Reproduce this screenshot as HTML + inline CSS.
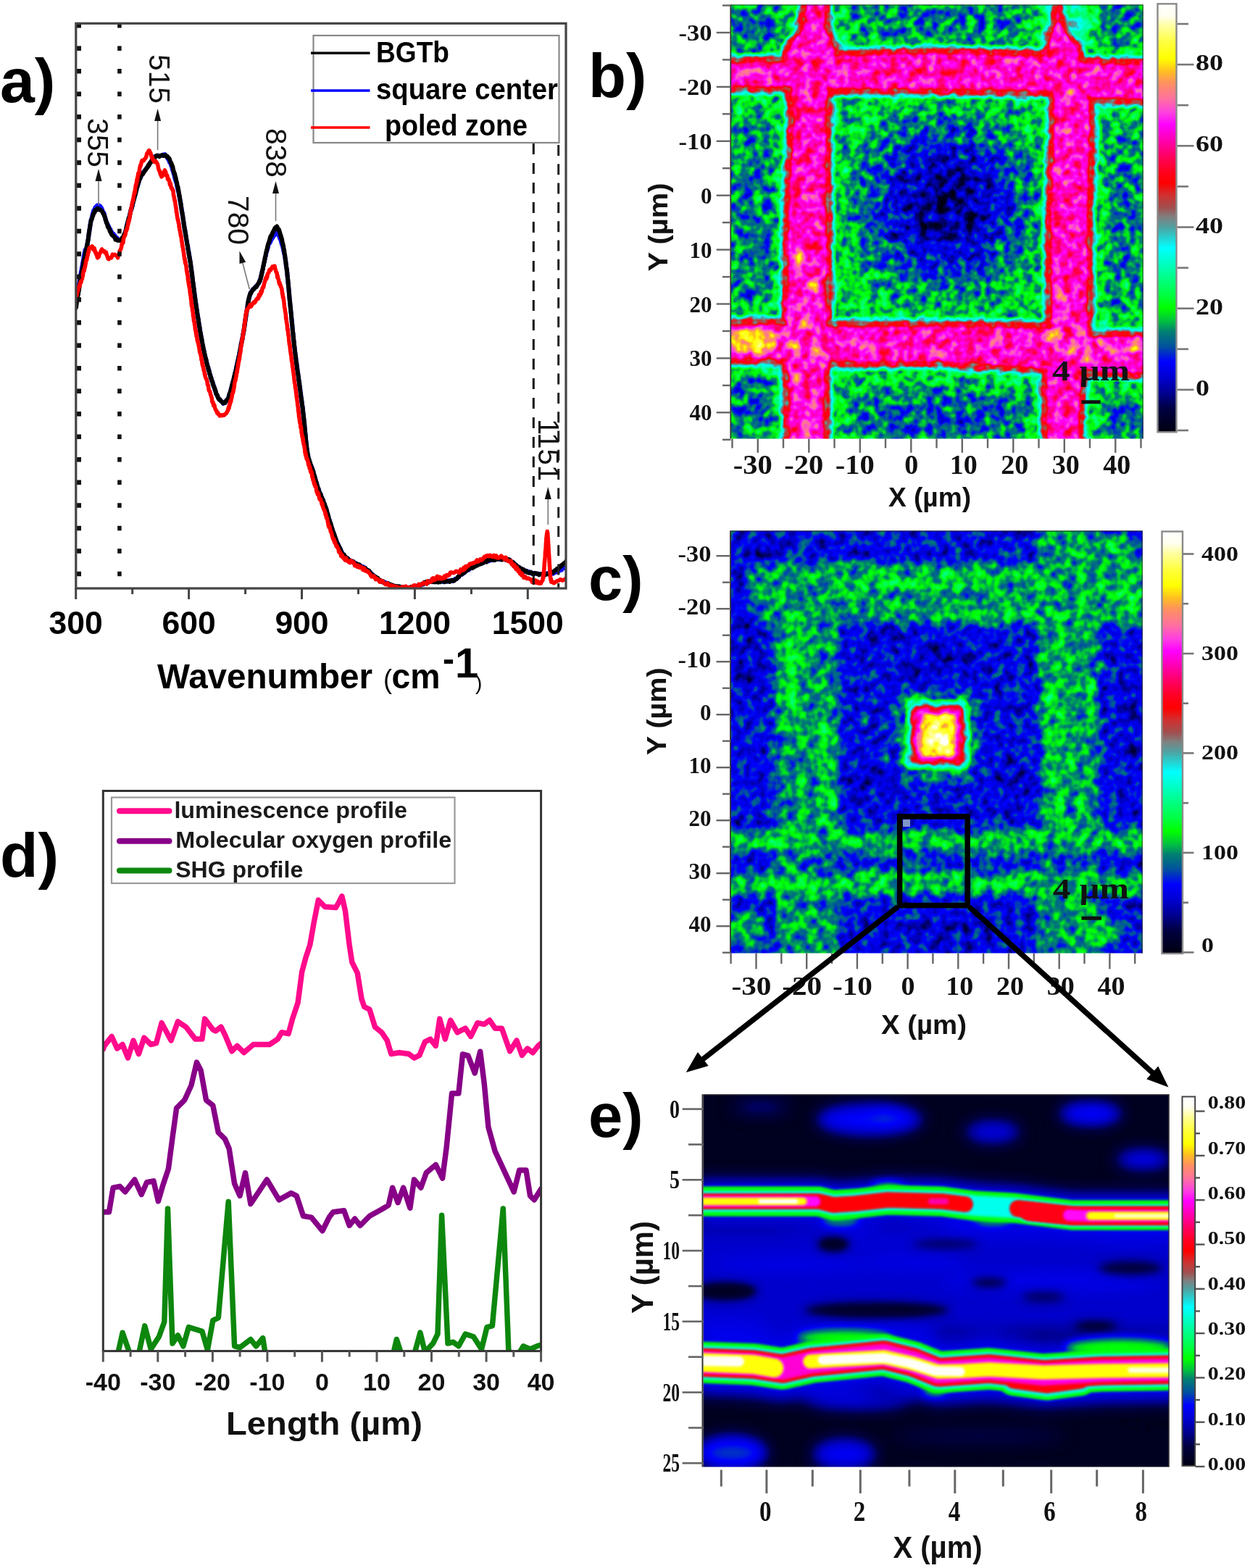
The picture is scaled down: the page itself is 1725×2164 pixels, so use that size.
<!DOCTYPE html><html><head><meta charset="utf-8"><title>Figure</title><style>html,body{margin:0;padding:0;background:#fff;}svg{display:block;}</style></head><body>
<svg width="1725" height="2164" viewBox="0 0 1725 2164">
<defs><clipPath id="clipA"><rect x="104.8" y="32.3" width="676.2" height="779.7"/></clipPath><clipPath id="clipD"><rect x="142.3" y="1091.5" width="604.3" height="773.1"/></clipPath></defs>
<rect width="1725" height="2164" fill="#fff"/>
<g clip-path="url(#clipA)">
<polyline points="104.7,419.2 104.8,418.6 105,417.8 105.2,417 105.4,415.3 105.6,414.4 105.8,411.2 106.1,410.5 106.3,409.9 106.6,407.7 106.9,406.5 107.2,403.2 107.5,402.1 107.8,399.9 108.1,398.7 108.4,397 108.6,394.1 108.9,392.8 109.2,391.3 109.5,390.9 109.7,389 110,386.3 110.3,386 110.5,383.1 110.8,382.5 111.1,380 111.3,378.2 111.6,378.4 111.8,375.5 112.1,374 112.3,374 112.6,372.3 112.8,369.6 113.1,369.5 113.4,367.1 113.6,365.9 113.9,363.5 114.2,363.4 114.4,361.4 114.7,360.5 115,358.8 115.3,356.1 115.6,354.7 115.9,352.8 116.2,351.2 116.5,349.5 116.8,348.4 117.2,347.5 117.5,344.8 117.8,344.6 118.1,348.4 118.5,346.8 118.8,346.3 119.1,344.1 119.4,342.3 119.7,341.1 120,340 120.3,337.2 120.6,337.5 120.9,334 121.2,334 121.4,332.6 121.7,329.3 121.9,329.2 122.2,326.7 122.4,325.5 122.6,322.7 122.9,321.2 123.1,319.8 123.3,319.7 123.5,316.6 123.8,316.2 124,315 124.2,313.3 124.5,310.5 124.7,309 125,307.8 125.2,306.9 125.5,304.2 126,302.9 126.6,300.7 127.2,298.6 127.8,294.9 128.4,294.8 129,291.3 129.6,290.2 130.2,289.3 130.8,288.6 131.3,286.4 132.8,285.1 134.2,283.6 135.5,283.1 136.8,283.6 138.1,284.5 139.5,286.2 140.4,287.7 141.3,290.3 142.2,292.8 143.1,293.2 144,295.5 144.5,299 145,299.8 145.5,301.5 146,303.1 146.5,305.3 147,307.2 147.6,307.9 148.1,309.2 148.7,309.7 149.4,312.7 150.1,312.3 150.8,314.5 151.5,316.5 152.3,316.3 153,318.7 153.8,320.3 154.5,320.7 155.5,322.4 156.4,322.4 157.4,324.3 158.4,324.9 159.3,327.4 160.3,327.2 162.2,329.2 164.2,331.4 166.1,331.3 167.1,331.2 168.1,329.6 169.1,328.5 170.1,327.5 171,325.2 171.9,322.9 172.4,321.9 172.8,320 173.2,319 173.7,318.7 174.1,317 174.5,314.6 174.9,312.7 175.3,310.7 175.7,308.5 176.1,307.2 176.5,306.6 176.9,305.3 177.3,302.8 177.7,302.2 178.1,300.8 178.5,299.1 178.8,297.6 179.2,296.4 179.6,294.1 180,293.4 180.4,291.1 180.8,290 181.2,289.1 181.6,287.4 182,285 182.5,284.7 182.9,282.6 183.3,280.9 183.7,278.1 184.1,277.6 184.5,275.4 185,274.7 185.4,272.7 185.8,271.8 186.2,269.9 186.6,268.6 187.1,266 187.5,264.9 187.9,263.4 188.3,262 188.7,259.4 189.1,258.8 189.6,257.4 190,255.5 190.4,254.8 191,253 191.5,250.4 192.1,248.9 192.6,246.8 193.2,246.7 193.8,245.6 194.4,243.4 195,242.6 195.9,241.1 196.9,239.7 197.9,237.2 198.9,237.2 199.9,235.5 200.9,234.3 201.9,232.5 202.8,231.6 203.7,230.6 204.7,229 205.7,227.8 206.7,225.1 207.6,224 208.6,223.1 209.5,222 210.5,219.6 211.5,219.2 212.5,217.9 213.6,215.8 215.2,215.9 216.9,215.1 218.6,214.7 220.2,214.9 221.7,215.1 223.8,214.1 225.7,213.4 227.5,213.1 228.7,214.8 229.9,216.1 231.1,218.2 232.2,220 233.3,221.2 234,224 234.7,223.5 235.3,225.8 235.9,227.1 236.5,229.2 237.2,230.7 238,234.6 238.3,234.9 238.7,235.4 239.1,237.8 239.5,238.1 239.9,240.4 240.3,241.4 240.7,243.4 241.2,245.6 241.6,246.9 242,247.6 242.4,249.9 242.9,251.1 243.3,252.1 243.7,253.2 244.1,255.6 244.4,257.1 244.8,259.3 245.1,260.7 245.4,261.3 245.7,262.2 246,264.6 246.3,264.2 246.6,265.9 246.9,268.2 247.2,269.7 247.4,270.2 247.7,272.7 248,274.6 248.2,275 248.5,276.6 248.8,277.6 249,279.1 249.3,281.9 249.5,282.1 249.8,284.6 250,285.8 250.3,286.8 250.5,287.7 250.8,290.8 251,291.4 251.3,292.7 251.5,294.1 251.7,296.9 252,297.5 252.2,298.6 252.4,300.5 252.7,301.3 252.9,303.8 253.1,305 253.4,306.2 253.6,308.7 253.8,310.4 254.1,310.3 254.3,312.9 254.6,313.9 254.8,316.7 255.1,317.9 255.4,318.4 255.6,320 255.9,321.3 256.2,324.5 256.4,324.6 256.7,326.8 257,328.1 257.2,330 257.5,331.5 257.8,333.3 258,333.6 258.3,336.4 258.5,337.1 258.8,339.1 259.1,340.2 259.3,341.5 259.5,343.4 259.8,344.6 260,345.7 260.2,347.8 260.5,348.8 260.7,349 260.9,350.8 261.2,352.6 261.4,354.9 261.7,356.4 261.9,357.3 262.2,357.9 262.5,361.3 262.8,362.5 263.1,364.9 263.4,367.4 263.6,368.4 263.7,369.3 263.9,371.4 264.1,371.6 264.2,372.9 264.4,375.1 264.6,375.2 264.8,376.8 265,379.3 265.1,379.2 265.3,382.2 265.5,383.4 265.7,384.4 265.9,385.6 266.1,388.1 266.3,389.9 266.5,390 266.7,392.2 266.9,394 267.1,395.5 267.3,396.7 267.5,398 267.7,400.5 267.9,402.6 268.2,402.7 268.4,404.7 268.6,407.5 268.8,409 269,410.4 269.2,410.7 269.5,413.7 269.7,415.8 269.9,417.4 270.1,418.4 270.4,418.7 270.6,421.8 270.8,422 271,424.4 271.3,426.5 271.5,427.6 271.7,428 272,429.9 272.2,432.7 272.4,432.7 272.7,435.2 272.9,436.4 273.2,437.5 273.4,440 273.7,440.4 273.9,442.1 274.2,444.3 274.4,445.2 274.7,446.8 274.9,449.4 275.2,451.3 275.5,453.1 275.7,453.2 276,455.4 276.2,456.7 276.5,458.8 276.8,460.1 277,462.5 277.3,462.9 277.5,463.7 277.8,466.4 278.1,466.8 278.3,469.2 278.6,470.3 278.8,472.5 279.1,473.2 279.3,474.7 279.6,475.3 279.8,477.1 280.1,477.8 280.5,480.6 280.8,482 281.2,482.9 281.6,484.9 282,486.8 282.3,489.2 282.7,489.7 283.1,492.3 283.5,493.7 283.8,494.1 284.2,496.7 284.6,497.1 284.9,498.6 285.3,500.9 285.7,501.6 286.1,504.3 286.4,504.8 286.8,505.9 287.2,508.1 287.5,507.9 287.9,510.6 288.3,510.6 288.7,512.1 289,515 289.4,515.8 289.9,516.6 290.4,518 290.9,521.4 291.4,522.5 291.9,524.5 292.4,524.8 293,527.3 293.5,528.4 294,529.7 294.5,531.4 295,533.5 295.5,534.4 296,535.8 296.5,536.7 296.9,539.4 297.4,540.2 297.8,541.7 298.2,542 298.6,543.9 299.6,545.6 300.5,547.7 301.3,549.2 302,550.7 302.7,551 303.3,551.3 304,552.1 305.4,554.2 306.6,554.9 307.9,557 309.2,556.1 310.5,556.1 312,553 312.6,553.1 313.3,553.1 313.9,551.6 314.6,550 315.4,548.4 316.2,545.4 317.2,542.5 317.5,541.5 317.8,540.9 318.1,539.8 318.5,539.6 318.8,536.9 319.1,535.8 319.5,534.5 319.9,532.9 320.2,531.7 320.6,530.2 321,529.2 321.4,526.7 321.8,526.9 322.2,524.2 322.6,523.7 323,521.6 323.4,519.9 323.8,517.8 324.2,517.1 324.6,513.8 325,513.2 325.4,510.7 325.7,509.8 326.1,508.2 326.5,505.4 326.8,504.1 327.1,502.4 327.4,501.4 327.7,499.7 328,498.9 328.3,498.7 328.6,496 328.9,494.4 329.3,493.2 329.6,491.4 329.9,490.8 330.2,489.2 330.5,486.6 330.8,485.3 331.1,484.6 331.4,483.6 331.7,481.5 332,479.5 332.3,479 332.6,475.5 332.9,474.1 333.2,474 333.5,471.7 333.8,469.4 334.1,468.9 334.4,468.3 334.7,465.8 335,463.9 335.3,461.9 335.5,460.3 335.8,460.5 336.1,458.2 336.3,457.5 336.6,454.2 336.9,453 337.1,451 337.4,450 337.6,447.7 337.9,446.4 338.1,445.1 338.4,443.2 338.6,441 338.9,439.3 339.1,439.5 339.4,436.3 339.6,435.3 339.9,433.5 340.1,432.1 340.3,429.6 340.6,428.5 340.8,426.6 341,426 341.2,425.2 341.5,423.2 341.7,422.3 341.9,419.7 342.1,418 342.4,417.8 342.6,416.5 342.8,415.6 343,414.1 343.2,413.7 343.9,410.9 344.5,409.1 345,406.1 345.6,405.1 346.1,404.9 346.7,402.8 347.3,401.8 347.9,401.2 348.7,399.6 349.6,399.7 350.5,398.8 351.6,396.9 352.7,395.7 353.8,394.6 354.9,393.9 356,392.2 357,391.2 358,389.4 358.4,387.6 358.8,386.1 359.2,386.1 359.6,383.5 359.9,382.3 360.3,381 360.7,379.7 361,377.5 361.4,376.6 361.8,374.7 362.1,373.9 362.5,371.9 362.8,370.9 363.1,368.7 363.5,367.3 363.8,365.3 364.1,363.4 364.5,362.6 364.8,360.8 365.1,360 365.4,358.2 365.8,356.4 366.2,353.9 366.6,353.6 366.9,351.4 367.3,349.6 367.7,348.1 368,347 368.3,345.9 368.7,345.5 369,343.5 369.4,341.8 369.7,342.1 370,340.6 370.3,338.5 370.7,337.6 371,336.9 371.6,335.7 372.3,335.4 372.9,334.4 373.5,332.7 374.1,331 374.7,330.6 375.3,329.6 376,328.6 376.8,326.6 377.6,326.1 378.5,324.9 379.3,323.1 380.2,320.7 381.1,321 382.1,320.5 382.6,322 383.1,322.2 383.7,324 384.2,324.7 384.8,324.4 385.3,326 385.9,328.6 386.5,329.1 387,330.5 387.6,332 388.1,334.3 388.6,336.2 389.1,337 389.6,339.5 389.9,339.8 390.2,339.9 390.5,342.3 390.7,342.6 391,343 391.2,346 391.5,345.2 391.7,347.5 392,348.5 392.2,350.5 392.5,350.8 392.7,351.7 392.9,353.2 393.2,354.4 393.4,356.5 393.6,357.6 393.9,359.9 394.1,360.4 394.4,362.3 394.6,363.7 394.8,366.9 395.1,368.4 395.3,369.5 395.4,370.2 395.6,370.9 395.7,371.6 395.9,374.2 396,374.7 396.2,375.2 396.3,376.9 396.5,378.2 396.6,380.9 396.8,382.7 396.9,382.8 397.1,385.5 397.2,386.1 397.4,388.3 397.5,390.2 397.7,391.3 397.8,393.2 398,393.9 398.1,394.8 398.3,397.4 398.4,399.1 398.6,399.9 398.7,401.9 398.9,403.4 399,404.4 399.2,406.6 399.3,408.3 399.5,410.1 399.6,412.2 399.8,413.1 399.9,415.9 400.1,417.1 400.2,418.9 400.4,419.9 400.5,421.4 400.7,422.7 400.9,424.7 401,425.3 401.1,427.3 401.3,429 401.4,430.2 401.6,431.2 401.7,432.3 401.9,433.8 402,435.9 402.2,437.8 402.3,439.7 402.5,441.1 402.6,441.8 402.7,444.5 402.9,444.7 403,447.1 403.2,447.3 403.3,450.2 403.5,451.5 403.6,453.6 403.8,455 403.9,456.1 404,457.9 404.2,459.2 404.4,460.5 404.5,461.2 404.7,463.3 404.8,465.5 405,465.7 405.1,468.7 405.3,469.4 405.5,470.6 405.6,471.3 405.8,473.6 406,474.6 406.1,477.1 406.3,479.1 406.5,480.6 406.7,481.6 406.8,482.6 407,483.6 407.2,486.3 407.4,487.6 407.6,489.5 407.8,490.4 408,493 408.2,493.2 408.4,494.9 408.6,496.4 408.9,498.7 409.1,500.8 409.3,500.9 409.5,503.4 409.7,505.3 409.9,505.7 410.1,507 410.3,509.5 410.6,511.6 410.8,513.2 411,514.5 411.2,515.3 411.4,516.9 411.6,518.6 411.8,520.8 412,521.1 412.2,522.5 412.4,524.6 412.6,526.7 412.8,526.6 413,527.7 413.2,529.2 413.3,531.5 413.5,532.9 413.7,533.4 413.9,535.1 414.2,537.7 414.4,539.4 414.6,541.2 414.8,542.8 415,543 415.2,545.4 415.4,547.6 415.6,549.3 415.8,549.5 416,552 416.2,553 416.4,554.9 416.6,555 416.7,557.3 416.9,559 417.1,559.7 417.3,560.3 417.5,562 417.7,563.3 417.8,564.7 418,566.3 418.2,568.8 418.4,569.3 418.6,572.2 418.8,573.8 419,575.6 419.2,577 419.3,578.2 419.5,580.1 419.6,581.6 419.8,582.5 419.9,584.7 420.1,584.5 420.2,586.1 420.4,587.6 420.5,589.5 420.7,591.4 420.8,593.2 421,595.3 421.2,597.1 421.3,597.4 421.5,599.7 421.6,601.6 421.8,602.9 421.9,604 422.1,606.6 422.2,607.7 422.4,609.9 422.6,611.1 422.7,613.6 422.9,615 423.1,614.8 423.2,617.6 423.4,618.9 423.6,619.4 423.8,620.4 423.9,622.4 424.1,623.4 424.3,625.3 424.5,626.8 424.9,627.9 425.3,629.7 425.7,631.9 426.1,634 426.6,635.7 427,636.8 427.5,637.6 427.9,639 428.4,641.2 428.8,641.8 429.3,642.1 429.8,644 430.2,644.8 430.7,646.9 431.1,646.9 431.6,648.7 432,649.7 432.5,652 432.9,654.5 433.3,655.1 433.8,656.3 434.2,658.9 434.6,658.8 435,660.8 435.5,663.2 435.9,663.1 436.3,666.1 436.8,666.8 437.2,667.6 437.7,669.6 438.2,671.5 438.7,672.9 439.2,674.6 439.7,675.1 440.2,676.9 440.8,679.8 441.3,680.2 441.9,681.6 442.5,682.3 443.1,684.1 443.7,686.9 444.3,687.7 444.9,688.8 445.5,689.3 446.1,691.4 446.6,693.6 447.2,694.3 447.8,696.1 448.3,698.1 448.8,699 449.3,700.5 449.8,700.8 450.3,702.3 450.8,705.3 451.2,706.1 451.7,708.5 452.1,709.9 452.5,711.6 453,712 453.4,714.8 453.8,715.8 454.3,717.6 454.7,717.6 455.2,720.3 455.6,721.1 456.1,723.7 456.6,725.2 457,725.1 457.5,727 457.9,728.1 458.4,730 458.9,731.1 459.4,733.3 459.8,733.6 460.3,735.2 460.8,737.2 461.3,737.9 461.8,739.9 462.3,742.4 462.9,743.7 463.4,743.7 463.9,744.7 464.5,747.7 465.1,749.4 465.8,750.2 466.5,750.8 467.1,752.5 467.8,755.4 468.5,756.9 469.2,756.5 469.9,758.2 470.7,760.1 471.4,761.1 472.2,763.4 472.9,763.9 473.7,765.9 474.6,765.8 475.4,767.5 476.6,769.7 477.8,770.3 479.1,770.1 480.4,771.1 481.7,772.9 483,773.2 484.4,773.9 485.8,774.8 487.1,775.7 488.5,777.2 489.9,776.6 491.3,778 492.7,778.2 494.2,779.5 495.6,780.6 497.1,780.2 498.6,781.6 500,782.8 501.5,782.2 502.9,784.5 504.2,784.6 505.5,785.6 506.8,786.8 508,788.2 509.2,787.8 510.3,789.8 511.4,790 512.5,791.8 513.6,792.9 514.9,793.3 516.2,794.9 517.6,796.3 518.8,797.5 520.1,798.9 521.4,798.6 522.7,799.7 524.1,800.9 525.6,802.1 527,802.9 528.5,803.8 529.9,803.1 531.4,803.6 532.9,805.8 534.3,804.7 535.7,806 537.2,807.2 538.7,807.3 540.2,807.5 541.7,809.1 543.2,808.3 544.8,809.2 546.3,810.2 547.8,809.2 549.3,809.9 550.8,810.5 552.3,810.8 553.8,810.3 555.3,811 556.8,810.3 558.3,810.5 559.8,811 561.3,810.6 562.8,812.3 564.4,810.8 565.9,810.7 567.4,811.6 568.9,811.3 570.4,810.1 571.9,811 573.4,810.2 574.9,809.2 576.4,809.2 578,807.8 579.5,807.1 581,807.7 582.5,806.1 584,806.4 585.5,804.3 587,803.6 588.5,803 590,804 591.6,803.3 593.2,802 594.8,801.9 596.4,803.3 598,802.6 599.6,803.3 601.2,801.6 602.8,802.7 604.3,801.8 605.9,802.9 607.5,802.6 609.1,802.5 610.7,801.7 612.4,803.2 614.1,801.5 615.7,801.4 617.4,802.6 619,801.3 620.6,801.2 622.1,801.8 623.5,801.9 624.9,802 626.4,801 627.9,799 629.2,799.3 630.4,798.8 631.7,796.3 632.8,796.6 634,794.6 635.2,793.6 636.5,792.1 637.8,792.7 639.1,791.3 640.4,791.1 641.7,789.3 643,787.7 644.3,786.9 645.6,786.1 646.9,786.6 648.2,784.3 649.7,783.2 651.1,783 652.6,781.7 654,781.6 655.5,781.3 656.9,780.7 658.4,779.1 659.8,778.4 661.2,778.4 662.7,778.2 664.1,777.1 665.6,776.7 667,776.8 668.5,774.8 669.9,774.5 671.4,774.5 673,774.1 674.6,774.4 676.1,773.3 677.7,773.2 679.3,772.4 681.1,772.9 683.1,772.8 684.5,771.6 686,771.1 687.6,771.2 689.2,771.3 690.9,772.3 692.7,770.9 694.4,771.7 696,771.7 697.6,772.5 699.1,771 700.5,772.6 702.1,772.3 703.6,772.6 705,774.6 706.3,776 707.6,776.5 708.8,776.5 710,779.4 711.1,779.2 712.2,780.6 713.7,781.9 715.1,782 716.4,783.3 717.6,784.1 718.9,784.5 720.3,785.2 721.8,787.3 723.3,787.3 724.9,788.8 726.5,787.7 728,788.7 729.6,789 731.2,791 732.7,791.1 734.3,791.7 735.9,791.3 737.4,790.8 738.9,791.7 740.6,791.7 742.3,791.6 743.9,793 745.5,792.6 747.1,792.3 748.7,793.1 750.3,793.8 751.9,793.6 753.5,792.3 755.2,791.1 756.7,792 758.3,790.3 759.9,791.1 761.5,790.1 763.1,791.8 764.5,790.7 766,790.2 767.4,789.4 768.7,789.5 770.1,789.7 771.5,787.9 772.6,786.8 773.8,786.7 775.1,786.7 776.3,784.7 777.5,784.3 778.6,784.1 779.6,782.2 781.5,781.7 783,779.9 784,778.3" fill="none" stroke="#1010ff" stroke-width="6" stroke-linejoin="round" stroke-linecap="round" />
<polyline points="104.7,424.9 104.8,424.3 105,424.2 105.2,422 105.4,420.9 105.6,419.7 105.8,417.3 106.1,416.6 106.3,415.3 106.6,414.1 106.9,410.7 107.2,409.5 107.5,407.2 107.8,407.2 108.1,405.1 108.4,401.8 108.6,402.3 108.9,400.5 109.2,398.1 109.5,396.3 109.7,393.7 110,391.8 110.3,391.5 110.5,388.8 110.8,387.5 111.1,386.1 111.3,384 111.6,383.5 111.8,382 112.1,381.4 112.3,379.1 112.6,377.9 112.8,376.1 113.1,374.9 113.4,373 113.6,371 113.9,371.2 114.2,369.7 114.4,367.9 114.7,366 115,363.6 115.3,361.8 115.6,360.4 115.9,358.4 116.2,358.5 116.5,356.1 116.8,355.7 117.2,353 117.5,352.9 117.8,351.1 118.1,347.5 118.5,346.5 118.8,346.7 119.1,344.1 119.4,343.8 119.7,340.9 120,338.6 120.3,338.4 120.6,337.2 120.9,334.4 121.2,332.5 121.4,331.5 121.7,331.4 121.9,329.3 122.2,326.1 122.4,324.8 122.6,322.8 122.9,321 123.1,321.1 123.3,318 123.5,317.4 123.8,315.5 124,313.4 124.2,313.2 124.5,310.3 124.7,310.1 125,307.5 125.2,307 125.5,305.3 126,303.3 126.6,303 127.2,300.8 127.8,297.9 128.4,297.8 129,294.7 129.6,293.9 130.2,293.8 130.8,292.3 131.3,290 132.8,290.2 134.2,287.8 135.5,287.9 136.8,289.5 138.1,289.3 139.5,290.5 140.4,290.9 141.3,292.1 142.2,294.6 143.1,295.3 144,298 144.5,298.7 145,300.3 145.5,303.1 146,303.6 146.5,305.5 147,307.9 147.6,307.9 148.1,309.4 148.7,312.7 149.4,314.1 150.1,314.3 150.8,315.7 151.5,318.5 152.3,320.4 153,320 153.8,323.2 154.5,324.2 155.5,325 156.4,326 157.4,326.5 158.4,327.5 159.3,330.6 160.3,329.7 162.2,331.9 164.2,331.4 166.1,332.2 167.1,330.9 168.1,329.2 169.1,327.7 170.1,327.6 171,324.3 171.9,322.6 172.4,322.2 172.8,321.6 173.2,319.5 173.7,317.2 174.1,317.1 174.5,313.7 174.9,311.5 175.3,310.4 175.7,309.1 176.1,306.6 176.5,305.2 176.9,304.2 177.3,303.3 177.7,300.8 178.1,299.9 178.5,299.7 178.8,298.5 179.2,296.2 179.6,294.9 180,293.2 180.4,290.6 180.8,288.9 181.2,287.4 181.6,288 182,285.9 182.5,285 182.9,281.1 183.3,281 183.7,279.1 184.1,278.1 184.5,275.5 185,275.6 185.4,271.8 185.8,271.3 186.2,270.2 186.6,268.9 187.1,266.9 187.5,265.1 187.9,263.7 188.3,262.3 188.7,259.3 189.1,258.6 189.6,257.6 190,256.1 190.4,253.6 191,252.7 191.5,251.3 192.1,249.1 192.6,247.7 193.2,245.8 193.8,244.9 194.4,243.7 195,241.2 195.9,241 196.9,240.4 197.9,238.8 198.9,237.1 199.9,235 200.9,234.6 201.9,232.9 202.8,231.2 203.7,230.9 204.7,227.8 205.7,228 206.7,224.9 207.6,224.9 208.6,223.2 209.5,221 210.5,220.7 211.5,218.8 212.5,217.9 213.6,217.7 215.2,215.4 216.9,214.5 218.6,215.1 220.2,216.1 221.7,214.8 223.8,214 225.7,215 227.5,214.4 228.7,214.3 229.9,216.2 231.1,215.8 232.2,217.9 233.3,218.3 234,220 234.7,222 235.3,223.5 235.9,224.9 236.5,225.3 237.2,227.8 238,229.6 238.3,230.2 238.7,232.3 239.1,234.4 239.5,235.8 239.9,236.9 240.3,238.9 240.7,238.8 241.2,240.1 241.6,242.4 242,243.6 242.4,245.1 242.9,247.2 243.3,249.4 243.7,250.7 244.1,252 244.4,254.9 244.8,256.9 245.1,257 245.4,257.6 245.7,259 246,262.6 246.3,262.1 246.6,265.3 246.9,266.5 247.2,267.5 247.4,270.2 247.7,270 248,271.8 248.2,274.2 248.5,274.7 248.8,278.2 249,278.3 249.3,279.6 249.5,280.9 249.8,283.8 250,284.9 250.3,286.9 250.5,288.6 250.8,290.5 251,292.5 251.3,293.4 251.5,293.7 251.7,295.9 252,296.7 252.2,297.8 252.4,300.5 252.7,302.5 252.9,302.8 253.1,304.5 253.4,306.2 253.6,308.6 253.8,309.8 254.1,311.6 254.3,313.4 254.6,314.1 254.8,316.5 255.1,318.3 255.4,317.9 255.6,321.5 255.9,322.5 256.2,322.6 256.4,324.9 256.7,326.9 257,329.1 257.2,329.4 257.5,331.4 257.8,333.7 258,335.1 258.3,337 258.5,337.4 258.8,339.4 259.1,339.8 259.3,342.5 259.5,344.1 259.8,345 260,346.5 260.2,346.6 260.5,349.6 260.7,351.1 260.9,352.4 261.2,352.7 261.4,354.8 261.7,355.2 261.9,358.2 262.2,359.8 262.5,360.4 262.8,361.7 263.1,364.6 263.4,367.1 263.6,368.8 263.7,369.3 263.9,369.4 264.1,372.6 264.2,372.1 264.4,375.2 264.6,375 264.8,376.8 265,379.3 265.1,379.2 265.3,380.7 265.5,383 265.7,385 265.9,386.8 266.1,388 266.3,390.2 266.5,390.7 266.7,393.4 266.9,392.9 267.1,394.8 267.3,397.1 267.5,398.2 267.7,400.9 267.9,402.3 268.2,403.6 268.4,406 268.6,407 268.8,408 269,409.8 269.2,412.5 269.5,414.2 269.7,414.2 269.9,417.3 270.1,419.1 270.4,419.6 270.6,421.3 270.8,421.9 271,424.2 271.3,425.6 271.5,427.4 271.7,427.6 272,431.4 272.2,431.9 272.4,433.2 272.7,435.7 272.9,436.7 273.2,438.1 273.4,440.2 273.7,440.3 273.9,443 274.2,444.3 274.4,447.2 274.7,448.7 274.9,448.7 275.2,450.8 275.5,451.5 275.7,453.8 276,456.3 276.2,458 276.5,458.5 276.8,459.7 277,460.9 277.3,463.4 277.5,465.6 277.8,465.2 278.1,468.2 278.3,467.8 278.6,469.6 278.8,471.1 279.1,473.5 279.3,474 279.6,475.4 279.8,477.3 280.1,477.4 280.5,480.7 280.8,481 281.2,483.7 281.6,484.8 282,486.3 282.3,488.8 282.7,490.1 283.1,491.6 283.5,493.2 283.8,495 284.2,495.6 284.6,497.2 284.9,499.6 285.3,501.1 285.7,502.2 286.1,504.3 286.4,505.1 286.8,507.1 287.2,506.9 287.5,509.5 287.9,510.9 288.3,512.5 288.7,512.4 289,513.7 289.4,516.4 289.9,516.4 290.4,520 290.9,521.4 291.4,521.3 291.9,523.2 292.4,526 293,526.5 293.5,527.7 294,531 294.5,531.6 295,533.9 295.5,533.8 296,535.8 296.5,537.9 296.9,537.5 297.4,539.2 297.8,541.5 298.2,543.2 298.6,544.3 299.6,544.7 300.5,547.5 301.3,549.6 302,550.2 302.7,551.7 303.3,551.4 304,552 305.4,553.8 306.6,554.7 307.9,556.3 309.2,556.2 310.5,555.7 312,553.2 312.6,552.4 313.3,551.6 313.9,552.2 314.6,551.3 315.4,549.5 316.2,545.2 317.2,542.1 317.5,543.3 317.8,541.1 318.1,540.7 318.5,538.4 318.8,537.5 319.1,536.4 319.5,534.8 319.9,533.8 320.2,531 320.6,531.2 321,530 321.4,526.9 321.8,526 322.2,525.1 322.6,522.6 323,520.5 323.4,518.8 323.8,517.9 324.2,515.1 324.6,515.5 325,513.6 325.4,511.6 325.7,510.3 326.1,508.1 326.5,505.9 326.8,505 327.1,503.4 327.4,503.1 327.7,501.3 328,498.6 328.3,498.7 328.6,496.8 328.9,495.5 329.3,494.1 329.6,491.6 329.9,491.3 330.2,489.7 330.5,487.8 330.8,486.4 331.1,484.9 331.4,482.5 331.7,481.7 332,478.6 332.3,477.7 332.6,476.5 332.9,473.8 333.2,473.1 333.5,472.2 333.8,470.7 334.1,468.2 334.4,468.3 334.7,466.1 335,463.8 335.3,463.1 335.5,461.4 335.8,459.8 336.1,457.9 336.3,457.8 336.6,455.4 336.9,454 337.1,452.5 337.4,451.4 337.6,447.4 337.9,447.2 338.1,445.8 338.4,443 338.6,441.7 338.9,439.2 339.1,437.8 339.4,436.6 339.6,434.3 339.9,433.1 340.1,433 340.3,430.6 340.6,428.9 340.8,428.5 341,426 341.2,425.6 341.5,423.3 341.7,422.3 341.9,419.2 342.1,419.2 342.4,418.4 342.6,415.5 342.8,416.5 343,413.6 343.2,413.3 343.9,409.7 344.5,408.2 345,406.8 345.6,404.2 346.1,405.3 346.7,403.2 347.3,402.6 347.9,401.8 348.7,400.1 349.6,398.7 350.5,398.6 351.6,397.4 352.7,395.9 353.8,396 354.9,393.9 356,391.9 357,390.7 358,388.1 358.4,387.3 358.8,387.6 359.2,385.4 359.6,385.3 359.9,383.5 360.3,380.4 360.7,381.1 361,379.4 361.4,375.7 361.8,376.1 362.1,373.3 362.5,371.7 362.8,371.2 363.1,367.8 363.5,366.8 363.8,366.2 364.1,364.1 364.5,361.9 364.8,361.6 365.1,359.8 365.4,357.9 365.8,355 366.2,354.5 366.6,352.4 366.9,350.2 367.3,348.1 367.7,347.6 368,345.1 368.3,344.3 368.7,343.3 369,341.3 369.4,339.4 369.7,338.8 370,337 370.3,336.6 370.7,334.8 371,334.8 371.6,332.6 372.3,330.3 372.9,327.6 373.5,325.9 374.1,326.5 374.7,325.1 375.3,323.5 376,321.7 376.8,319.8 377.6,318.9 378.5,316.7 379.3,315 380.2,313.8 381.1,313.5 382.1,312.5 382.6,313.1 383.1,315.6 383.7,316.4 384.2,317.4 384.8,316.7 385.3,318.2 385.9,320.2 386.5,322.2 387,324.5 387.6,325 388.1,327.9 388.6,328.7 389.1,330.7 389.6,334 389.9,334.9 390.2,336.4 390.5,337 390.7,338.5 391,339.2 391.2,340.8 391.5,343.1 391.7,344.7 392,344.2 392.2,345.7 392.5,348.8 392.7,349.9 392.9,351.8 393.2,352 393.4,354.1 393.6,355.4 393.9,358.4 394.1,359.1 394.4,361.6 394.6,364.3 394.8,364.6 395.1,367.1 395.3,368.8 395.4,370.5 395.6,370.6 395.7,371.7 395.9,372.4 396,375.7 396.2,375.1 396.3,376.5 396.5,379.1 396.6,380.4 396.8,382.3 396.9,382.9 397.1,385.6 397.2,385.4 397.4,387.3 397.5,389.9 397.7,390 397.8,392.1 398,394.7 398.1,396.2 398.3,396.9 398.4,398.1 398.6,400.2 398.7,402.7 398.9,403.5 399,404.5 399.2,407.5 399.3,408.7 399.5,411.2 399.6,412.8 399.8,414.3 399.9,414.8 400.1,417.2 400.2,417.6 400.4,419.1 400.5,420.8 400.7,423.6 400.9,425.1 401,425 401.1,426.8 401.3,428.3 401.4,429.8 401.6,431.4 401.7,432.9 401.9,433.9 402,436.3 402.2,438.4 402.3,439.2 402.5,441.5 402.6,442.3 402.7,442.9 402.9,445.8 403,447.6 403.2,447.7 403.3,448.5 403.5,451.2 403.6,452.8 403.8,454.4 403.9,456.8 404,457.6 404.2,459.5 404.4,459.2 404.5,461.8 404.7,463.9 404.8,463.8 405,465.3 405.1,468.3 405.3,470.2 405.5,469.8 405.6,472.6 405.8,472.9 406,475.9 406.1,477.2 406.3,477.7 406.5,479.1 406.7,482 406.8,482.9 407,485 407.2,485.7 407.4,487.1 407.6,490.2 407.8,491 408,492.2 408.2,493.8 408.4,495.8 408.6,497.4 408.9,499.5 409.1,499.8 409.3,502.4 409.5,503.6 409.7,505.6 409.9,507 410.1,508.6 410.3,510.3 410.6,512 410.8,512.8 411,514.1 411.2,516 411.4,517.7 411.6,518.3 411.8,519.8 412,520.6 412.2,523.5 412.4,525.6 412.6,525.5 412.8,526.4 413,527.9 413.2,529.8 413.3,530.8 413.5,533.8 413.7,532.9 413.9,535.3 414.2,536.6 414.4,539.5 414.6,541.4 414.8,541.6 415,542.9 415.2,545.3 415.4,547.1 415.6,549.4 415.8,548.7 416,550.3 416.2,551.9 416.4,553.4 416.6,554.9 416.7,557.4 416.9,558.5 417.1,559.1 417.3,560.4 417.5,562 417.7,563.2 417.8,566.1 418,566.5 418.2,568.6 418.4,570.8 418.6,571.6 418.8,572.7 419,575.9 419.2,577.4 419.3,577.4 419.5,579.3 419.6,581.8 419.8,582.2 419.9,583.1 420.1,584.2 420.2,587.9 420.4,589.2 420.5,589.8 420.7,591.8 420.8,593.4 421,594.4 421.2,597.8 421.3,598.6 421.5,599.3 421.6,600.4 421.8,603.1 421.9,604.5 422.1,607.1 422.2,608.5 422.4,609.8 422.6,610.3 422.7,611.8 422.9,613.7 423.1,615 423.2,617.9 423.4,618.5 423.6,620.2 423.8,622.3 423.9,621.9 424.1,623.8 424.3,624 424.5,626.6 424.9,626.9 425.3,630.9 425.7,632.7 426.1,634.4 426.6,634.2 427,636.1 427.5,638.5 427.9,638.3 428.4,640.5 428.8,641.7 429.3,644 429.8,644.3 430.2,646.2 430.7,646.1 431.1,648.5 431.6,648.9 432,651.5 432.5,651 432.9,654.3 433.3,654.3 433.8,656.7 434.2,658.1 434.6,658.7 435,661.9 435.5,662.1 435.9,663.6 436.3,664.6 436.8,666.6 437.2,668.5 437.7,670.6 438.2,671.3 438.7,673.5 439.2,673.7 439.7,675.8 440.2,677.3 440.8,680 441.3,681.1 441.9,682.1 442.5,681.9 443.1,684.2 443.7,686.4 444.3,686.7 444.9,688.9 445.5,690.1 446.1,690.4 446.6,694.2 447.2,695.2 447.8,695.2 448.3,697.6 448.8,698.2 449.3,699.9 449.8,701.8 450.3,702.7 450.8,704.3 451.2,706 451.7,708.1 452.1,708.7 452.5,710 453,712.8 453.4,713.3 453.8,716.3 454.3,716.9 454.7,718.8 455.2,719.4 455.6,722.1 456.1,721.8 456.6,723.4 457,724.7 457.5,727.5 457.9,729.1 458.4,729.3 458.9,731.2 459.4,733.8 459.8,734.6 460.3,734.9 460.8,736.6 461.3,737.9 461.8,739.2 462.3,741.3 462.9,741.9 463.4,745.3 463.9,745.5 464.5,747 465.1,748.9 465.8,750.6 466.5,752.3 467.1,752.7 467.8,754.1 468.5,755.8 469.2,756.3 469.9,758.6 470.7,760.7 471.4,762.8 472.2,763.6 472.9,764.5 473.7,765.6 474.6,765.3 475.4,767.1 476.6,768.4 477.8,770.3 479.1,770 480.4,771.5 481.7,772.7 483,774.1 484.4,774.9 485.8,775.1 487.1,774.7 488.5,776.9 489.9,778.1 491.3,778 492.7,778.3 494.2,779.4 495.6,779.3 497.1,781.4 498.6,782.8 500,782.4 501.5,783.7 502.9,784.7 504.2,784 505.5,786.7 506.8,786.9 508,786.9 509.2,787.7 510.3,789.2 511.4,791.1 512.5,792.5 513.6,792.8 514.9,795.3 516.2,795 517.6,796.3 518.8,796.3 520.1,799.1 521.4,797.9 522.7,800.6 524.1,800.5 525.6,801.4 527,802.2 528.5,802.2 529.9,804.5 531.4,805.4 532.9,805.7 534.3,805.8 535.7,805.2 537.2,807.5 538.7,806.7 540.2,808.7 541.7,807.6 543.2,808.9 544.8,809.9 546.3,808.8 547.8,810 549.3,809.2 550.8,809.3 552.3,809.9 553.8,812.1 555.3,812.1 556.8,811.6 558.3,810.8 559.8,811.7 561.3,811.9 562.8,811 564.4,811.5 565.9,811.9 567.4,809.9 568.9,810.1 570.4,810.5 571.9,809.4 573.4,809.7 574.9,809.6 576.4,808.1 578,808.3 579.5,807.1 581,807.1 582.5,805.8 584,805.9 585.5,803.8 587,804.8 588.5,803 590,804.6 591.6,803.4 593.2,802.9 594.8,802.6 596.4,803 598,803.1 599.6,803.2 601.2,803.2 602.8,802.5 604.3,803.7 605.9,803.3 607.5,803.3 609.1,802.1 610.7,802.1 612.4,802.4 614.1,803.2 615.7,802.3 617.4,802.3 619,802 620.6,803 622.1,801.4 623.5,800.5 624.9,801.7 626.4,801.6 627.9,800.4 629.2,799.2 630.4,798.7 631.7,796.6 632.8,796.3 634,794 635.2,793.1 636.5,793 637.8,792.2 639.1,791 640.4,789.2 641.7,789.8 643,788.4 644.3,786.8 645.6,786.1 646.9,785.5 648.2,784.3 649.7,783 651.1,784.2 652.6,783.6 654,782.2 655.5,782 656.9,780.2 658.4,780.5 659.8,778.4 661.2,779 662.7,778 664.1,778.2 665.6,775.6 667,776.7 668.5,774.6 669.9,775.1 671.4,775.6 673,772.8 674.6,773 676.1,772.7 677.7,772.4 679.3,771.5 681.1,773.2 683.1,772.9 684.5,771.7 686,771.5 687.6,771.9 689.2,770.5 690.9,770.4 692.7,772.4 694.4,770.9 696,771.4 697.6,772.6 699.1,772.9 700.5,772 702.1,772 703.6,772.9 705,775.3 706.3,776.3 707.6,775.6 708.8,778.3 710,778.1 711.1,779.4 712.2,779.5 713.7,782.3 715.1,783.7 716.4,782.8 717.6,784.7 718.9,784.6 720.3,787 721.8,785.8 723.3,786.5 724.9,788.6 726.5,788.2 728,790.1 729.6,790.5 731.2,790.6 732.7,789.6 734.3,791.4 735.9,792.3 737.4,791.5 738.9,790.9 740.6,791.6 742.3,792.1 743.9,793.4 745.5,792.3 747.1,792.3 748.7,792.4 750.3,793.3 751.9,793.4 753.5,792 755.2,792.3 756.7,792.4 758.3,791.2 759.9,789.7 761.5,789.3 763.1,790.1 764.5,788.8 766,787.1 767.4,787.1 768.7,784.9 770.1,786.1 771.5,783.7 772.6,783 773.8,782 775.1,779.7 776.3,779.9 777.5,778.1 778.6,777.1 779.6,777.5 781.5,774.2 783,773.4 784,773.6" fill="none" stroke="#000" stroke-width="6" stroke-linejoin="round" stroke-linecap="round" />
<polyline points="104.7,411.2 104.9,409.6 105.2,410.7 105.6,406.8 106,407.3 106.4,404.9 106.9,401.8 107.4,401.9 108,398 108.4,398.5 108.8,395.6 109.2,394.4 109.6,394.6 110.1,394.9 110.6,390.4 111,389.4 111.5,389.7 112,389.6 112.5,386.4 113,384 113.4,385 113.9,379.3 114.3,381.4 114.7,377.5 115.1,375.3 115.5,373.6 115.9,372.8 116.3,373.5 116.7,369 117.1,369.2 117.5,367.8 117.9,365 118.2,364.2 118.6,360.5 119,359 119.3,358.2 119.7,358.9 120.2,355.9 120.6,353.5 121,352.7 121.4,350.3 121.8,347.7 122.2,348.2 122.6,346.1 123,342.7 123.4,342.8 123.8,341.6 124.3,342.4 125.7,341 127.2,339.8 128.7,344.5 130.1,342.5 130.8,345.1 131.5,348.4 132.1,347.7 132.8,351.2 133.4,350.9 134.1,354.9 134.8,355.8 135.6,354.4 136.4,354.3 137.2,349.9 138.1,349.5 138.9,347 139.8,345.4 140.6,344 141.8,345.8 143,347.3 144.2,346.7 145.3,349.2 146.4,348.1 147.4,352.4 148.3,353.9 149.1,357.2 150,357.7 151,356.1 152.4,356 153.8,355.7 155.3,351.2 156.8,352.1 158.3,351.3 159.8,352.3 161.2,353.1 162.6,355.8 163.2,352.2 163.7,351.6 164.2,350.8 164.7,351.4 165.1,346.2 165.6,346 166.1,344.6 166.6,344.2 167.2,342.1 167.6,341 168.1,337.1 168.6,336.4 169,334.8 169.5,335.7 170,334.6 170.5,329.6 171,328.2 171.5,327 172,325.4 172.5,324.9 173,323.7 173.4,320.9 173.8,318.3 174.2,318.7 174.6,317 175,316.3 175.4,316.4 175.8,313.7 176.2,311.3 176.6,310.2 176.9,308.8 177.3,304.5 177.7,306.6 178.1,304.5 178.4,303.3 178.8,301.4 179.1,298.1 179.5,296.6 179.8,293.8 180.1,294.7 180.4,290.7 180.7,289.2 181,288.4 181.3,286.7 181.6,286 181.9,283.2 182.2,281.4 182.5,280.5 182.8,278.6 183.2,278.1 183.5,274.9 183.8,277.3 184.1,274.7 184.4,271.1 184.6,270.1 184.9,269 185.3,267.5 185.6,264.8 185.9,266.4 186.2,265.5 186.5,261.6 186.8,260 187.1,256.7 187.4,255.2 187.7,254.7 188.1,252.8 188.4,253.8 188.7,249.3 189,247.3 189.3,250 189.7,246.4 190.1,242.9 190.5,242.9 190.8,238.9 191.2,239.4 191.6,239.7 192,237.5 192.4,235.2 192.8,231.7 193.2,230.6 193.6,228.3 193.9,229.6 194.3,227.2 194.7,227.1 195.1,224.1 196.1,221.3 197.1,222.3 198.1,221.9 199.1,220.3 200,219.2 200.9,218.1 201.9,216 202.8,211.8 203.6,211.4 204.5,209.4 205.5,207.6 206.3,208.1 207.1,210.2 207.9,211.5 208.8,215.1 209.6,218 210.5,217.4 211.3,220.9 212.3,222.5 213.2,223.5 214.2,222.1 215.2,222.7 216.1,224.2 217.1,225.8 217.7,227.1 218.3,230.6 218.9,233.5 219.5,235.1 220.1,235.4 220.7,238 221.2,240.3 221.8,238.6 222.4,242.2 222.9,244 224.1,243 225.2,240.5 226.3,236.9 227.5,235 228,238.3 228.6,237.2 229.2,240.4 229.7,242.5 230.3,241.5 230.9,243.2 231.5,247.3 232.1,248.1 232.7,247.3 233.3,248.7 233.8,250.1 234.4,254.6 234.9,255.3 235.4,253.5 235.9,257.7 236.5,259.6 237,259.6 237.5,259.7 238,262.2 238.6,262.3 239.1,263.9 239.4,269.2 239.6,269.1 239.9,269.9 240.2,273 240.4,272.3 240.7,275.7 241,277 241.2,275.9 241.5,277.7 241.8,279.5 242,281 242.3,284.2 242.5,284.4 242.8,286.8 243.1,287.2 243.3,292.3 243.6,291.5 243.9,293.6 244.1,295.8 244.4,298.8 244.6,298.2 244.9,301.8 245.2,301.6 245.5,303.3 245.7,304.8 246,304.2 246.3,307.5 246.6,307.9 246.9,308.7 247.2,313.7 247.4,312.4 247.7,315.2 248,317.8 248.3,318.5 248.6,319 248.8,321.3 249.1,322.9 249.4,325.4 249.6,323.8 249.9,327.3 250.1,327.4 250.4,328.9 250.7,332.7 251,333.1 251.2,334.9 251.5,337.4 251.7,339.6 252,339.1 252.2,341.4 252.5,342.4 252.8,344 253,346.3 253.2,346.8 253.5,348.7 253.7,349.9 254,353.5 254.2,354 254.5,356.3 254.7,358.1 255,356.6 255.3,359.5 255.5,362.5 255.7,363.4 255.9,361.6 256.2,362.7 256.4,365.3 256.6,364.9 256.8,366.9 257.1,367.4 257.3,371.3 257.5,373.2 257.8,375.2 258.1,373.6 258.3,377.8 258.6,379.4 259,379.2 259.3,384.7 259.7,387.6 259.9,385.4 260,389.7 260.2,388.5 260.4,390.1 260.6,393.6 260.8,394.3 261,392.7 261.1,395.3 261.3,397.1 261.5,397.7 261.8,398.6 262,400.7 262.2,404 262.4,402.5 262.6,406.4 262.8,407.5 263,407.3 263.3,410.3 263.5,413.2 263.7,414.4 264,414.1 264.2,419.8 264.4,420.6 264.6,423.1 264.9,421 265.1,423.4 265.3,424 265.6,429 265.8,428.4 266,429.4 266.3,432.3 266.5,436.1 266.7,437.3 267,436.4 267.2,437.5 267.4,442.4 267.7,442.4 267.9,444.5 268.1,443.2 268.3,444.5 268.6,448.7 268.8,448.9 269,448.6 269.3,454.2 269.6,454.6 269.9,457.1 270.2,455.6 270.5,460.7 270.8,458.9 271.1,464 271.4,463.8 271.7,464.9 272,467.4 272.3,470.6 272.6,469.2 272.9,470.1 273.2,473.3 273.5,473.5 273.7,474.4 274,476.1 274.3,477 274.6,479.1 274.9,481 275.2,482.3 275.5,485.7 275.8,485 276.1,487.3 276.4,487.3 276.7,489.4 277,489.3 277.3,491.7 277.6,492 277.9,496.5 278.2,497 278.6,497.1 278.9,500 279.3,503.6 279.7,501.6 280.1,506.3 280.4,506.2 280.8,508.1 281.2,511.1 281.5,510.7 281.9,512.7 282.3,515 282.7,517.8 283,516.5 283.4,520.1 283.8,521 284.1,522.1 284.5,522.6 284.9,523.7 285.3,523.8 285.6,525.6 286,526.7 286.4,531 286.8,530.2 287.1,531.2 287.5,532.2 288,537.2 288.4,539 288.9,539.8 289.4,539.7 289.9,541.2 290.3,543.1 290.8,545.5 291.3,545.8 291.8,548.6 292.3,549.4 292.7,554 293.2,555.5 293.7,555.1 294.1,555.2 294.6,559.7 295.1,558.1 295.5,559.6 295.9,559.2 296.4,562 296.8,563.5 297.8,566 298.7,566.8 299.6,570 300.5,569.3 301.4,571.7 302.3,571.9 303.2,574 304.2,572.8 305.4,572.8 306.8,573.6 308.2,572.6 309.5,573 310.9,571.3 312.3,570.5 313.5,568 314,567.2 314.5,566.8 315,563.5 315.5,562 316,563.6 316.4,558.5 316.9,559.6 317.3,557.7 317.8,553.5 318.2,555.4 318.7,554 319.1,551.1 319.5,549.8 320,548.3 320.4,543.5 320.9,543.3 321.2,542 321.5,542.2 321.8,540.8 322.1,539.5 322.4,537.1 322.7,537.1 323,534.8 323.3,533.5 323.6,530 323.9,527.7 324.2,526.7 324.4,526.2 324.7,523.6 325,525.2 325.3,522.5 325.6,521.2 325.9,519.7 326.2,518.3 326.5,515.9 326.8,512.1 327.1,514 327.4,512.2 327.7,509.4 328,507.9 328.3,506.8 328.5,502.8 328.8,504.4 329,500.8 329.3,498.6 329.5,498 329.8,498.5 330,494.7 330.3,495.5 330.5,495 330.8,491.3 331,489.3 331.3,488.1 331.5,487.4 331.8,486.2 332,484 332.3,482.5 332.5,478.4 332.8,477.2 333,476.1 333.3,476.7 333.5,473.2 333.8,472.8 334,468.8 334.2,467.5 334.5,467 334.7,467.3 334.9,466 335.2,464.5 335.4,461.4 335.6,461.1 335.8,459.5 336.1,457.7 336.4,454.4 336.6,456 336.9,451.2 337.1,452.8 337.3,450.9 337.6,445.1 337.8,445.3 338,445.2 338.2,444.2 338.4,440.3 338.7,438 338.9,436.2 339.1,437.9 339.3,433.3 339.6,433.5 339.8,430.3 340.1,430.7 340.4,431.4 340.7,426.7 341,428.7 341.3,426.3 342.4,425.6 343.7,423.4 345,420.5 346.4,423 347.8,420.7 349.2,418 350.6,416.7 351.4,417.8 352.3,416.6 353.1,414.8 354,412.9 354.8,412.5 355.7,411.1 356.5,412 357.4,406.8 358.2,408.6 359.1,407.3 359.9,402.4 360.4,404.8 361,402.6 361.5,402 362.1,397.9 362.6,396.8 363.2,395.4 363.7,396.5 364.3,393.1 364.8,390.5 365.4,389.3 365.9,387.1 366.5,384.6 367,383.4 367.5,385.2 368.1,381.4 368.6,383.1 369.1,378.9 370,377.1 370.9,376.2 371.7,372.9 372.6,371.9 373.5,372.8 374.3,371.1 375.1,369.6 376,368 376.7,368.8 377.5,368.9 378.1,367.6 378.6,369.1 379.1,367.1 379.7,371.4 380.2,371.6 380.7,374.5 381.2,375.8 381.7,376 382.1,376.8 382.6,382.5 383.1,380.7 383.5,383.9 384,384.8 384.5,386.1 385,389.4 385.5,391.8 385.9,390 386.4,393 386.9,392.8 387.3,395.3 387.8,396.1 388.2,396.7 388.7,398.4 389.1,400.6 389.6,405.9 389.8,405.2 390,405.2 390.3,409.4 390.5,411 390.7,409.8 390.9,409.7 391.1,411.3 391.3,412.2 391.5,414.6 391.7,414.9 391.9,417 392.1,418.5 392.3,421.4 392.6,424.3 392.8,425.2 393,425.3 393.2,426.9 393.4,429.1 393.7,430.1 393.9,431.6 394.1,432.1 394.4,434.8 394.6,439.6 394.8,437.7 395.1,441.2 395.3,443 395.5,445.4 395.6,443.8 395.8,445.4 396,446.7 396.2,448.7 396.4,450.3 396.6,454 396.8,455 397,456.5 397.2,454.3 397.4,455.8 397.6,460.3 397.8,462.6 398,462.3 398.2,464.3 398.4,463.3 398.6,466.6 398.8,470.5 399,471.6 399.2,473.3 399.4,475.4 399.6,473.8 399.8,474.8 400,476.6 400.2,479.8 400.4,482.1 400.7,484.8 400.9,485.4 401.1,486.7 401.3,488.7 401.5,488.9 401.7,490.9 401.9,490.2 402.1,495 402.3,494.1 402.5,498.6 402.7,499 402.9,499 403.1,499.8 403.3,501.9 403.5,505.1 403.8,507 404,506 404.2,507.5 404.4,511.1 404.6,513 404.8,513.7 405.1,514.6 405.3,517.9 405.5,517 405.7,519.9 405.9,522.2 406.2,526 406.4,526.2 406.6,528.9 406.8,528.7 407,529.2 407.2,530.8 407.5,535.5 407.7,535.9 407.9,535.7 408.1,535.9 408.3,539.5 408.5,541.7 408.6,542 408.8,542.6 409,545.8 409.2,548.3 409.4,546.5 409.5,546.9 409.7,549.5 409.8,551 410,553.3 410.3,553.4 410.6,558.1 410.8,559.9 411,560.7 411.3,561.1 411.5,566.1 411.7,564.8 411.8,568.5 412,567.3 412.2,568.6 412.3,572.3 412.5,571.5 412.6,575.7 412.8,574.9 413,574.8 413.1,576.2 413.3,578.3 413.5,580.7 413.8,583.7 414,581.9 414.3,584.5 414.5,585.2 414.8,590 415,587.8 415.3,588.8 415.6,590.3 415.8,593.2 416.1,596.9 416.4,598.3 416.7,599.3 417,602.2 417.2,603.3 417.5,602.1 417.7,602.9 418,607.7 418.2,608.4 418.5,606.8 418.7,611.2 419,611.6 419.2,613.1 419.5,614.6 419.8,615.5 420.1,616.3 420.4,619.2 420.7,621.1 421,625.3 421.4,623.1 421.7,628.3 422.1,626.6 422.5,628.8 422.9,632.4 423.3,633.9 423.8,633.7 424.3,633.5 424.7,636.9 425.2,638 425.7,641.9 426.2,640.2 426.6,642.4 427.1,646.3 427.6,643.9 428.1,647.1 428.5,650.4 429,651.7 429.4,650 429.9,651.5 430.3,653.1 430.8,658.4 431.2,657 431.6,660.6 432,662.8 432.5,661.8 432.9,663.1 433.3,667.6 433.8,667.6 434.2,667.5 434.7,671 435.2,670.8 435.7,672.1 436.2,672.4 436.7,677.1 437.2,679.3 437.8,679.4 438.3,682.2 438.9,679.6 439.5,681.9 440.1,684.4 440.7,688 441.3,689.4 441.9,688.3 442.5,689.1 443.1,691.3 443.6,693 444.2,696.3 444.8,694.5 445.3,698.6 445.8,699.7 446.3,701.6 446.8,702.9 447.3,703.7 447.8,704 448.2,705.4 448.7,707.1 449.1,710.5 449.5,708.9 450,710.9 450.4,714.9 450.8,714.1 451.3,714.9 451.7,716.2 452.2,720 452.6,720.5 453.1,724.9 453.6,725.9 454,727.8 454.5,726.1 454.9,726.7 455.4,728.2 455.9,731.5 456.4,733.9 456.8,734.2 457.3,734.7 457.8,736.9 458.3,739.3 458.8,740.9 459.3,742.6 459.9,744.5 460.4,745 460.9,744 461.5,748.5 462.1,747.6 462.8,750.3 463.5,751 464.1,754.1 464.8,753.2 465.5,754.9 466.2,756.3 466.9,757.3 467.7,762 468.4,762 469.2,762.1 469.9,763.7 470.7,767.5 471.6,766.5 472.4,766.3 473.6,770.1 474.8,770.6 476.1,773.1 477.4,770.1 478.7,772.6 480,774.8 481.4,775.6 482.8,776.7 484.1,773.5 485.5,775.4 486.9,775.4 488.3,776.5 489.7,780.8 491.2,779.8 492.6,782.1 494.1,780.3 495.6,783.3 497,782.2 498.5,782.1 499.9,785.2 501.2,786.7 502.5,783.9 503.8,787 505,788.2 506.2,787.5 507.3,789.2 508.4,789.3 509.5,790.7 510.6,792.1 511.9,794.7 513.2,796 514.6,795.1 515.8,795 517.1,797.2 518.4,799.6 519.7,798.2 521.1,799.6 522.6,799.9 524,803.3 525.5,803 526.9,801.6 528.4,802.5 529.9,804.4 531.3,805.7 532.7,806.7 534.2,804.9 535.7,805.8 537.2,808.6 538.7,807.9 540.2,807.8 541.8,808.3 543.3,811.5 544.8,809.1 546.3,810.5 547.8,809.8 549.3,810.3 550.8,812.5 552.3,813.2 553.8,810.6 555.3,809.9 556.8,812.3 558.3,810 559.8,809.1 561.4,812.9 562.9,810.7 564.4,812.3 565.9,810.3 567.4,812.2 568.9,810.1 570.4,808.5 572,807.6 573.5,809.6 575.1,809.5 576.6,810.3 578.2,806.2 579.7,808.1 581.2,806.4 582.7,806.5 584.2,804.4 585.6,804.5 587,805 588.6,806.1 590.2,801.8 591.7,802.6 593.2,803.2 594.7,803.1 596.1,798.9 597.5,797.8 598.9,800.7 600.3,800.3 601.6,797.6 603.5,795.3 605.3,798.9 607.1,796.5 608.8,798.8 610.4,797.5 611.9,798.3 613.3,795.1 614.9,797.1 616.2,793.6 617.4,793.4 618.7,794.3 620.2,793.3 621.5,790.1 623,789.9 624.6,790.4 626.2,790.6 627.8,789.8 629.3,788.3 630.7,788.5 632.5,790 634.1,790.2 635.7,785.8 637.2,787.3 638.9,787.2 640.2,783.2 641.4,785.8 642.7,781.5 644,782.6 645.3,781.2 646.7,780.6 648.2,778.2 649.5,778.1 650.9,778.2 652.4,776.9 653.9,777.4 655.3,776 656.8,775.4 658.3,773 659.8,775 661.2,773.7 662.7,771.8 664.1,773.3 665.6,772.5 667,770.3 668.5,768.3 669.9,768.9 671.4,766.9 673.1,766.6 674.7,767.8 676.4,766.3 678.1,768 679.8,768.4 681.4,766.5 683.1,769.2 684.8,766.8 686.5,769.8 688.2,770.1 689.9,769 691.6,767.2 693.2,769.5 694.7,769.3 696.4,772.3 698,769.3 699.6,773.2 701.1,774.6 702.5,774.4 704,775.9 705.1,774.1 706.1,778.6 707.1,777.6 708.1,780.8 709.1,781.9 710.1,779.8 711.1,783.8 712.2,785.7 713.2,783 714.2,785.5 715.3,788.5 716.3,787.1 717.4,791.6 718.4,790 719.5,793.6 720.5,791.7 721.5,794.2 722.9,797.3 724.2,795.3 725.6,796.6 726.9,798.6 728.2,798.6 729.6,798.1 731.1,799.3 732.7,799.6 734.4,803.4 736,802.6 737.5,803.8 738.9,800.9 740.6,804.5 742.1,802.5 743.4,805 744.7,805.3 745.6,803.6 746.5,805.2 747.3,802.9 748.1,801.7 748.8,801.2 749.5,795.3 749.7,798.2 749.9,795.5 750,793.2 750.2,793.8 750.3,790.1 750.5,791.9 750.6,788.6 750.7,786.2 750.9,786.4 751,783.4 751.1,780.6 751.2,781.4 751.3,776.6 751.4,778.3 751.6,774.1 751.7,774.1 751.8,773.9 752,770.4 752.1,769.3 752.3,766.2 752.4,763.1 752.5,761.5 752.7,760.2 752.8,760.3 753,757.5 753.1,755.9 753.2,755.6 753.4,750.2 753.5,748.6 753.7,748.6 753.8,744 754,742.1 754.1,742 754.3,739.3 754.4,739 754.6,737.1 754.7,737.6 754.8,736.7 755,734.3 755.1,735.7 755.2,734.8 755.3,733.3 755.5,737.2 755.6,734.8 755.7,735.2 755.8,736.1 756,739.7 756.1,742.3 756.2,743.5 756.3,743.6 756.4,744.8 756.5,745.7 756.6,750.5 756.8,752.2 756.9,753.3 757,756.6 757.1,757.7 757.2,761.8 757.3,762.7 757.4,762.3 757.5,766.8 757.6,764.5 757.7,768.2 757.8,769.3 757.9,770.2 758,771.1 758.1,775.9 758.2,774.3 758.3,778.3 758.4,781.7 758.5,779.8 758.6,781.7 758.7,785.1 758.8,786.2 758.9,788.3 759,790.5 759.1,789 759.2,790.9 759.3,792 759.4,792 759.5,796.7 759.8,799.3 760.1,800.8 760.4,798.8 760.8,803.2 761.5,803.5 762.8,803.1 764.4,804.7 766.1,803.5 768,802.3 769.6,801.4 771.3,801.2 773.1,799.6 774.8,800.1 776.2,801.2 778.1,800.1 779.5,799.9 780.8,798.6 782.7,795.7 784,796.2" fill="none" stroke="#ff0000" stroke-width="5.5" stroke-linejoin="round" stroke-linecap="round" />
</g>
<line x1="108.5" y1="32" x2="108.5" y2="812" stroke="#111" stroke-width="7" stroke-dasharray="6.5 25.03"/>
<line x1="164.9" y1="32" x2="164.9" y2="812" stroke="#111" stroke-width="5.5" stroke-dasharray="6.5 25.03"/>
<line x1="736.3" y1="198" x2="736.3" y2="812" stroke="#111" stroke-width="3" stroke-dasharray="15 12"/>
<line x1="770.7" y1="200" x2="770.7" y2="812" stroke="#222" stroke-width="3" stroke-dasharray="15 11.3"/>
<rect x="104.8" y="32.3" width="676.2" height="779.7" fill="none" stroke="#444" stroke-width="3.2"/>
<line x1="104.7" y1="812" x2="104.7" y2="827" stroke="#444" stroke-width="3"/>
<line x1="182.7" y1="812" x2="182.7" y2="820" stroke="#444" stroke-width="3"/>
<line x1="260.6" y1="812" x2="260.6" y2="827" stroke="#444" stroke-width="3"/>
<line x1="338.6" y1="812" x2="338.6" y2="820" stroke="#444" stroke-width="3"/>
<line x1="416.5" y1="812" x2="416.5" y2="827" stroke="#444" stroke-width="3"/>
<line x1="494.5" y1="812" x2="494.5" y2="820" stroke="#444" stroke-width="3"/>
<line x1="572.4" y1="812" x2="572.4" y2="827" stroke="#444" stroke-width="3"/>
<line x1="650.4" y1="812" x2="650.4" y2="820" stroke="#444" stroke-width="3"/>
<line x1="728.3" y1="812" x2="728.3" y2="827" stroke="#444" stroke-width="3"/>
<text x="104.7" y="874.5" font-family='"Liberation Sans", Arial, sans-serif' font-size="44.5" font-weight="bold" text-anchor="middle" fill="#000" >300</text>
<text x="260.6" y="874.5" font-family='"Liberation Sans", Arial, sans-serif' font-size="44.5" font-weight="bold" text-anchor="middle" fill="#000" >600</text>
<text x="416.5" y="874.5" font-family='"Liberation Sans", Arial, sans-serif' font-size="44.5" font-weight="bold" text-anchor="middle" fill="#000" >900</text>
<text x="572.4" y="874.5" font-family='"Liberation Sans", Arial, sans-serif' font-size="44.5" font-weight="bold" text-anchor="middle" fill="#000" >1200</text>
<text x="728.3" y="874.5" font-family='"Liberation Sans", Arial, sans-serif' font-size="44.5" font-weight="bold" text-anchor="middle" fill="#000" >1500</text>
<text x="217" y="949.8" font-family='"Liberation Sans", Arial, sans-serif' font-size="48.5" font-weight="bold" text-anchor="start" fill="#000" textLength="297" lengthAdjust="spacingAndGlyphs">Wavenumber</text>
<text x="529" y="950" font-family='"Liberation Sans", Arial, sans-serif' font-size="36" font-weight="normal" text-anchor="start" fill="#000" >(</text>
<text x="540.5" y="949.8" font-family='"Liberation Sans", Arial, sans-serif' font-size="49" font-weight="bold" text-anchor="start" fill="#000" textLength="67" lengthAdjust="spacingAndGlyphs">cm</text>
<text x="611" y="926" font-family='"Liberation Sans", Arial, sans-serif' font-size="48" font-weight="bold" text-anchor="start" fill="#000" >-</text>
<text x="628" y="935.3" font-family='"Liberation Sans", Arial, sans-serif' font-size="58" font-weight="bold" text-anchor="start" fill="#000" >1</text>
<text x="656" y="952" font-family='"Liberation Sans", Arial, sans-serif' font-size="28" font-weight="normal" text-anchor="start" fill="#000" >)</text>
<rect x="432.5" y="49" width="339" height="148" fill="#fff" stroke="#888" stroke-width="2.2"/>
<line x1="429" y1="73.3" x2="510.5" y2="73.3" stroke="#000" stroke-width="3.5"/>
<line x1="429" y1="125" x2="510.5" y2="125" stroke="#0000ff" stroke-width="3.5"/>
<line x1="429" y1="176" x2="510.5" y2="176" stroke="#ff0000" stroke-width="3.5"/>
<text x="519" y="85.6" font-family='"Liberation Sans", Arial, sans-serif' font-size="41.5" font-weight="bold" text-anchor="start" fill="#000" textLength="101" lengthAdjust="spacingAndGlyphs">BGTb</text>
<text x="519" y="136.5" font-family='"Liberation Sans", Arial, sans-serif' font-size="41.5" font-weight="bold" text-anchor="start" fill="#000" textLength="251" lengthAdjust="spacingAndGlyphs">square center</text>
<text x="531" y="187" font-family='"Liberation Sans", Arial, sans-serif' font-size="41.5" font-weight="bold" text-anchor="start" fill="#000" textLength="197" lengthAdjust="spacingAndGlyphs">poled zone</text>
<text x="0" y="0" transform="translate(121,163) rotate(90)" font-family='"Liberation Sans", Arial, sans-serif' font-size="40" fill="#111" textLength="68" lengthAdjust="spacingAndGlyphs">355</text>
<text x="0" y="0" transform="translate(206,75) rotate(90)" font-family='"Liberation Sans", Arial, sans-serif' font-size="40" fill="#111" textLength="68" lengthAdjust="spacingAndGlyphs">515</text>
<text x="0" y="0" transform="translate(366.5,177) rotate(90)" font-family='"Liberation Sans", Arial, sans-serif' font-size="40" fill="#111" textLength="68" lengthAdjust="spacingAndGlyphs">838</text>
<text x="0" y="0" transform="translate(315,270) rotate(90)" font-family='"Liberation Sans", Arial, sans-serif' font-size="40" fill="#111" textLength="68" lengthAdjust="spacingAndGlyphs">780</text>
<text x="0" y="0" transform="translate(743.4,578) rotate(90)" font-family='"Liberation Sans", Arial, sans-serif' font-size="40" fill="#111" textLength="86" lengthAdjust="spacingAndGlyphs">1151</text>
<line x1="136" y1="283" x2="136" y2="250" stroke="#777" stroke-width="1.6"/>
<polygon points="136,233 140.5,250 131.5,250" fill="#111"/>
<line x1="217.6" y1="207" x2="217.6" y2="167" stroke="#777" stroke-width="1.6"/>
<polygon points="217.6,150 222.1,167 213.1,167" fill="#111"/>
<line x1="380.5" y1="305" x2="380.5" y2="267" stroke="#777" stroke-width="1.6"/>
<polygon points="380.5,250 385,267 376,267" fill="#111"/>
<line x1="344.3" y1="399" x2="334.8" y2="362.9" stroke="#777" stroke-width="1.6"/>
<polygon points="330.5,346.5 339.2,361.8 330.5,364.1" fill="#111"/>
<line x1="756.3" y1="724" x2="756.3" y2="689" stroke="#777" stroke-width="1.6"/>
<polygon points="756.3,672 760.8,689 751.8,689" fill="#111"/>
<text x="0" y="140.5" font-family='"Liberation Sans", Arial, sans-serif' font-size="86" font-weight="bold" text-anchor="start" fill="#000" >a)</text>
<g clip-path="url(#clipD)">
<polyline points="142.3,1448 144,1443.4 154.2,1430.4 161.6,1447.1 169.1,1441.5 176.5,1460.1 184,1436 191.4,1454.5 198.9,1432.2 208.2,1441.5 215.6,1439.7 223.1,1411.7 236.1,1435.9 245.4,1409.9 256.6,1417.3 269.6,1434.1 278.9,1434.1 282.6,1406.1 293.8,1421 297.5,1422.9 305,1417.3 310.6,1428.5 319.9,1450.8 327.3,1443.4 336.6,1452.7 349.7,1441.5 372,1441.5 383.2,1434.1 388.7,1424.8 398.1,1426.6 403.6,1406.1 411.1,1383.8 416.7,1341 422.3,1320.5 427.8,1303.8 433.4,1272.1 439.3,1242.3 448.6,1251.6 463.5,1252.6 467.2,1246 471.9,1236.8 476.5,1257.2 482.1,1303.8 485.8,1328 493.3,1342.9 498.9,1378.2 502.6,1389.4 510,1393.1 517.5,1417.3 526.8,1424.8 534.2,1435.9 539.8,1454.5 551,1452.7 564,1454.5 571.5,1460.1 578.9,1456.4 586.4,1437.8 593.8,1434.1 601.3,1443.4 606.8,1406.1 614.3,1434.1 621.7,1408 631,1424.8 642.2,1419.2 649.7,1430.4 659,1411.7 668.3,1413.6 675.7,1408 683.2,1419.2 692.5,1419.2 703.6,1450.8 713,1435.9 720.4,1456.4 727.8,1447.1 735.3,1452.7 742.7,1443.4 746.6,1440" fill="none" stroke="#ff0a8c" stroke-width="7.5" stroke-linejoin="round" stroke-linecap="round" stroke-linejoin="miter" stroke-miterlimit="3"/>
<polyline points="142.3,1673 144.9,1672.7 150.5,1672.7 156.1,1639.2 165.4,1637.3 172.8,1644.8 185.8,1628 195.2,1648.5 202.6,1631.7 211.9,1629.9 218.4,1657.8 224.9,1635.5 232.4,1613.1 238,1570.3 243.6,1529.4 254.7,1518.2 264,1497.7 271.5,1466.1 277.1,1477.2 284.5,1518.2 293.8,1525.6 301.3,1562.9 310.6,1572.2 316.2,1585.2 323.6,1633.6 331,1650.3 338.5,1618.7 345.9,1661.5 368.3,1628 385,1655.9 401.8,1646.6 409.2,1650.3 418.5,1678.3 429.7,1680.1 444.9,1698.7 454.2,1680.1 459.8,1672.7 474.7,1670.8 482.1,1691.3 489.6,1682 497,1691.3 510,1678.3 526.8,1669 536.1,1663.4 541.7,1639.2 549.1,1659.7 556.6,1639.2 565.9,1667.1 571.5,1628 580.8,1639.2 588.2,1618.7 601.3,1607.5 610.6,1626.2 616.2,1583.3 623.6,1508.9 632.9,1508.9 638.5,1454.9 645.9,1456.8 655.2,1481 662.7,1451.2 668.3,1495.8 673.9,1555.4 683.2,1588.9 696.2,1616.8 709.2,1644.8 716.7,1615 726,1615 731.6,1650.3 737.2,1655.9 746.6,1641" fill="none" stroke="#870087" stroke-width="7.5" stroke-linejoin="round" stroke-linecap="round" stroke-linejoin="miter" stroke-miterlimit="3"/>
<polyline points="160,1880 169.1,1839.2 178.4,1866 185,1875 192,1866 199.8,1829.9 208.2,1862 219.4,1844.8 226.8,1824.3 231.5,1667.9 238,1854.1 245.4,1842.9 252.9,1857.8 260.3,1831.7 278.9,1837.3 286.4,1863 293.8,1822.4 301.3,1818.7 315.2,1658.6 323.6,1857.8 331,1859.7 345.9,1848.5 353.4,1857.8 362.7,1846.6 368,1880 540,1880 547.3,1848.5 553,1866 560,1880 572,1868 579.9,1839.2 586.4,1866 597.5,1854.1 604,1841 609.6,1677.2 618,1854.1 625.5,1852.2 632.9,1857.8 642.2,1841 653.4,1844.8 664.5,1862 672,1831.7 679.4,1829.9 694.3,1667.9 701.8,1863 710,1878 722.3,1857.8 731.6,1862 740.9,1857.8 746.6,1856" fill="none" stroke="#0d870d" stroke-width="7.5" stroke-linejoin="round" stroke-linecap="round" stroke-linejoin="miter" stroke-miterlimit="4"/>
</g>
<rect x="142.3" y="1091.5" width="604.3" height="773.1" fill="none" stroke="#333" stroke-width="3"/>
<line x1="142.3" y1="1864.6" x2="142.3" y2="1879.6" stroke="#555" stroke-width="3"/>
<line x1="180.1" y1="1864.6" x2="180.1" y2="1872.6" stroke="#555" stroke-width="3"/>
<line x1="217.8" y1="1864.6" x2="217.8" y2="1879.6" stroke="#555" stroke-width="3"/>
<line x1="255.6" y1="1864.6" x2="255.6" y2="1872.6" stroke="#555" stroke-width="3"/>
<line x1="293.4" y1="1864.6" x2="293.4" y2="1879.6" stroke="#555" stroke-width="3"/>
<line x1="331.1" y1="1864.6" x2="331.1" y2="1872.6" stroke="#555" stroke-width="3"/>
<line x1="368.9" y1="1864.6" x2="368.9" y2="1879.6" stroke="#555" stroke-width="3"/>
<line x1="406.7" y1="1864.6" x2="406.7" y2="1872.6" stroke="#555" stroke-width="3"/>
<line x1="444.4" y1="1864.6" x2="444.4" y2="1879.6" stroke="#555" stroke-width="3"/>
<line x1="482.2" y1="1864.6" x2="482.2" y2="1872.6" stroke="#555" stroke-width="3"/>
<line x1="520" y1="1864.6" x2="520" y2="1879.6" stroke="#555" stroke-width="3"/>
<line x1="557.8" y1="1864.6" x2="557.8" y2="1872.6" stroke="#555" stroke-width="3"/>
<line x1="595.5" y1="1864.6" x2="595.5" y2="1879.6" stroke="#555" stroke-width="3"/>
<line x1="633.3" y1="1864.6" x2="633.3" y2="1872.6" stroke="#555" stroke-width="3"/>
<line x1="671.1" y1="1864.6" x2="671.1" y2="1879.6" stroke="#555" stroke-width="3"/>
<line x1="708.8" y1="1864.6" x2="708.8" y2="1872.6" stroke="#555" stroke-width="3"/>
<line x1="746.6" y1="1864.6" x2="746.6" y2="1879.6" stroke="#555" stroke-width="3"/>
<text x="142.3" y="1918.5" font-family='"Liberation Sans", Arial, sans-serif' font-size="34" font-weight="bold" text-anchor="middle" fill="#111" >-40</text>
<text x="217.8" y="1918.5" font-family='"Liberation Sans", Arial, sans-serif' font-size="34" font-weight="bold" text-anchor="middle" fill="#111" >-30</text>
<text x="293.4" y="1918.5" font-family='"Liberation Sans", Arial, sans-serif' font-size="34" font-weight="bold" text-anchor="middle" fill="#111" >-20</text>
<text x="368.9" y="1918.5" font-family='"Liberation Sans", Arial, sans-serif' font-size="34" font-weight="bold" text-anchor="middle" fill="#111" >-10</text>
<text x="444.4" y="1918.5" font-family='"Liberation Sans", Arial, sans-serif' font-size="34" font-weight="bold" text-anchor="middle" fill="#111" >0</text>
<text x="520" y="1918.5" font-family='"Liberation Sans", Arial, sans-serif' font-size="34" font-weight="bold" text-anchor="middle" fill="#111" >10</text>
<text x="595.5" y="1918.5" font-family='"Liberation Sans", Arial, sans-serif' font-size="34" font-weight="bold" text-anchor="middle" fill="#111" >20</text>
<text x="671.1" y="1918.5" font-family='"Liberation Sans", Arial, sans-serif' font-size="34" font-weight="bold" text-anchor="middle" fill="#111" >30</text>
<text x="746.6" y="1918.5" font-family='"Liberation Sans", Arial, sans-serif' font-size="34" font-weight="bold" text-anchor="middle" fill="#111" >40</text>
<text x="312" y="1979.5" font-family='"Liberation Sans", Arial, sans-serif' font-size="44.5" font-weight="bold" text-anchor="start" fill="#111" textLength="271" lengthAdjust="spacingAndGlyphs">Length (µm)</text>
<rect x="154" y="1100.5" width="473.5" height="118.5" fill="#fff" stroke="#999" stroke-width="2.2"/>
<line x1="165" y1="1119.2" x2="233.5" y2="1119.2" stroke="#ff0a8c" stroke-width="8" stroke-linecap="round"/>
<line x1="165" y1="1160.7" x2="233.5" y2="1160.7" stroke="#870087" stroke-width="8" stroke-linecap="round"/>
<line x1="165" y1="1201.6" x2="233.5" y2="1201.6" stroke="#0d870d" stroke-width="8" stroke-linecap="round"/>
<text x="240.4" y="1129" font-family='"Liberation Sans", Arial, sans-serif' font-size="32" font-weight="bold" text-anchor="start" fill="#1a1a1a" textLength="321.5" lengthAdjust="spacingAndGlyphs">luminescence profile</text>
<text x="242.2" y="1169.9" font-family='"Liberation Sans", Arial, sans-serif' font-size="32" font-weight="bold" text-anchor="start" fill="#1a1a1a" textLength="381" lengthAdjust="spacingAndGlyphs">Molecular oxygen profile</text>
<text x="242.2" y="1210.5" font-family='"Liberation Sans", Arial, sans-serif' font-size="32" font-weight="bold" text-anchor="start" fill="#1a1a1a" textLength="176" lengthAdjust="spacingAndGlyphs">SHG profile</text>
<text x="0" y="1210.4" font-family='"Liberation Sans", Arial, sans-serif' font-size="86" font-weight="bold" text-anchor="start" fill="#000" >d)</text>
<defs><filter id="fB" filterUnits="userSpaceOnUse" x="980" y="-20" width="640" height="660" color-interpolation-filters="sRGB"><feTurbulence type="fractalNoise" baseFrequency="0.075" numOctaves="2" seed="4" result="nz"/><feColorMatrix in="nz" type="matrix" values="1 0 0 0 0  1 0 0 0 0  1 0 0 0 0  0 0 0 0 1" result="nzg"/><feComposite in="SourceGraphic" in2="nzg" operator="arithmetic" k1="0" k2="1" k3="0.32" k4="-0.1600" result="sum"/><feComponentTransfer in="sum" result="cm"><feFuncR type="table" tableValues="0 0 0 0 0 0 0 0 0 0 0 0 0 0 0 0 0 0 0 0 0 0 0 0 0 0 0 0 0 0 0 0 0 0 0 0 0 0 0 0 0 0 0 0 0 0 0 0 0 0 0 0 0 0 0 0.02 0.07 0.12 0.171 0.221 0.272 0.324 0.389 0.453 0.514 0.561 0.608 0.656 0.705 0.755 0.804 0.854 0.904 0.954 1 1 1 1 1 1 1 1 1 1 1 1 1 1 1 1 1 1 1 1 1 1 1 1 1 1 1 1 1 1 1 1 1 1 1 1 1 1 1 1 1 1 1 1 1 1 1 1 1 1 1 1 1 1"/><feFuncG type="table" tableValues="0 0 0 0 0 0 0 0 0 0 0 0 0 0 0 0 0 0 0 0 0 0.012 0.083 0.153 0.224 0.294 0.344 0.385 0.426 0.467 0.515 0.597 0.679 0.76 0.822 0.885 0.948 1 1 1 1 1 1 1 1 1 1 1 1 1 1 1 1 1 1 0.977 0.917 0.857 0.797 0.737 0.677 0.62 0.577 0.534 0.485 0.414 0.343 0.295 0.262 0.229 0.196 0.149 0.098 0.047 0 0 0 0 0 0 0 0 0 0 0 0 0 0 0 0 0 0 0.064 0.132 0.2 0.263 0.309 0.356 0.402 0.444 0.471 0.498 0.525 0.551 0.591 0.644 0.697 0.75 0.816 0.883 0.95 1 1 1 1 1 1 1 1 1 1 1 1 1 1 1 1 1"/><feFuncB type="table" tableValues="0.063 0.09 0.118 0.145 0.173 0.2 0.227 0.26 0.327 0.394 0.461 0.528 0.589 0.644 0.699 0.754 0.809 0.85 0.889 0.928 0.968 0.986 0.902 0.818 0.734 0.65 0.598 0.556 0.515 0.474 0.43 0.368 0.306 0.244 0.18 0.117 0.053 0.011 0.077 0.143 0.209 0.27 0.324 0.377 0.43 0.484 0.539 0.596 0.652 0.709 0.764 0.815 0.866 0.918 0.969 0.977 0.917 0.857 0.797 0.737 0.677 0.62 0.577 0.534 0.485 0.414 0.343 0.295 0.262 0.229 0.196 0.149 0.098 0.047 0.003 0.04 0.076 0.113 0.163 0.219 0.276 0.332 0.391 0.457 0.524 0.591 0.658 0.725 0.793 0.86 0.928 0.996 0.969 0.936 0.903 0.862 0.801 0.739 0.677 0.617 0.564 0.51 0.457 0.403 0.342 0.271 0.2 0.13 0.093 0.059 0.025 0.013 0.064 0.114 0.165 0.216 0.275 0.355 0.435 0.516 0.596 0.69 0.793 0.895 0.95 0.967 0.983 1"/></feComponentTransfer><feGaussianBlur in="cm" stdDeviation="0.7"/></filter><filter id="blB1" x="-20%" y="-20%" width="140%" height="140%" color-interpolation-filters="sRGB"><feGaussianBlur stdDeviation="1.8"/></filter><filter id="blB2" x="-20%" y="-20%" width="140%" height="140%" color-interpolation-filters="sRGB"><feGaussianBlur stdDeviation="9"/></filter><filter id="blB3" x="-50%" y="-50%" width="200%" height="200%" color-interpolation-filters="sRGB"><feGaussianBlur stdDeviation="4"/></filter><radialGradient id="rgB" gradientUnits="userSpaceOnUse" cx="1305" cy="282" r="170"><stop offset="0" stop-color="#0f0f0f"/><stop offset="0.3" stop-color="#1d1d1d"/><stop offset="0.6" stop-color="#333333"/><stop offset="0.85" stop-color="#424242"/><stop offset="1" stop-color="#474747"/></radialGradient><clipPath id="clipB"><rect x="1008.3" y="6.4" width="569.4" height="599.2"/></clipPath><linearGradient id="cbg" x1="0" y1="1" x2="0" y2="0"><stop offset="0.000" stop-color="#000010"/><stop offset="0.054" stop-color="#000040"/><stop offset="0.091" stop-color="#000090"/><stop offset="0.127" stop-color="#0000d0"/><stop offset="0.164" stop-color="#0000ff"/><stop offset="0.199" stop-color="#0050a0"/><stop offset="0.235" stop-color="#008070"/><stop offset="0.259" stop-color="#00c040"/><stop offset="0.290" stop-color="#00ff00"/><stop offset="0.320" stop-color="#00ff40"/><stop offset="0.357" stop-color="#00ff80"/><stop offset="0.392" stop-color="#00ffc0"/><stop offset="0.430" stop-color="#00ffff"/><stop offset="0.479" stop-color="#50a0a0"/><stop offset="0.502" stop-color="#808080"/><stop offset="0.523" stop-color="#a05050"/><stop offset="0.553" stop-color="#d03030"/><stop offset="0.582" stop-color="#ff0000"/><stop offset="0.609" stop-color="#ff0020"/><stop offset="0.644" stop-color="#ff0060"/><stop offset="0.681" stop-color="#ff00b0"/><stop offset="0.717" stop-color="#ff00ff"/><stop offset="0.746" stop-color="#ff40e0"/><stop offset="0.778" stop-color="#ff70a0"/><stop offset="0.815" stop-color="#ff9060"/><stop offset="0.843" stop-color="#ffc020"/><stop offset="0.872" stop-color="#ffff00"/><stop offset="0.911" stop-color="#ffff40"/><stop offset="0.948" stop-color="#ffffa0"/><stop offset="0.972" stop-color="#fffff0"/><stop offset="1.000" stop-color="#ffffff"/></linearGradient></defs>
<g clip-path="url(#clipB)"><g filter="url(#fB)"><rect x="980" y="-20" width="640" height="660" fill="#404040"/><g filter="url(#blB2)" fill="#4e4e4e"><polygon points="1092,-20 1090,6 1084,40 1069,60 1063,75 1069,132 1072,160 1067,250 1065,300 1063,440 1064,510 1066,620 1161,620 1161,510 1164,440 1164,300 1163,250 1163,160 1165,132 1176,75 1173,60 1162,40 1161,6 1161,-20"/><polygon points="1438,-20 1436,6 1434,30 1426,50 1424,70 1431,145 1431,200 1427,300 1427,440 1421,520 1421,620 1510,620 1516,520 1524,440 1524,300 1527,200 1527,145 1511,70 1498,50 1486,30 1482,6 1480,-20"/><polygon points="990,64 1080,61 1150,54 1290,50 1440,54 1510,64 1600,66 1600,161 1510,159 1440,149 1290,146 1150,146 1080,143 990,142"/><polygon points="990,424 1080,424 1150,427 1300,427 1440,429 1510,441 1600,441 1600,539 1510,536 1440,532 1300,522 1150,523 1080,519 990,518"/></g><rect x="1160" y="145" width="270" height="285" rx="30" fill="url(#rgB)" filter="url(#blB2)"/><ellipse cx="1040" cy="40" rx="40" ry="30" fill="#373737" filter="url(#blB2)"/><ellipse cx="1040" cy="300" rx="28" ry="120" fill="#383838" filter="url(#blB2)"/><ellipse cx="1040" cy="560" rx="30" ry="40" fill="#373737" filter="url(#blB2)"/><ellipse cx="1300" cy="30" rx="120" ry="25" fill="#393939" filter="url(#blB2)"/><ellipse cx="1300" cy="575" rx="120" ry="30" fill="#343434" filter="url(#blB2)"/><ellipse cx="1550" cy="300" rx="18" ry="110" fill="#373737" filter="url(#blB2)"/><ellipse cx="1550" cy="580" rx="20" ry="30" fill="#343434" filter="url(#blB2)"/><ellipse cx="1540" cy="30" rx="30" ry="22" fill="#393939" filter="url(#blB2)"/><g filter="url(#blB2)" fill="#696969"><ellipse cx="1478" cy="30" rx="30" ry="32"/><ellipse cx="1448" cy="20" rx="10" ry="20"/></g><g filter="url(#blB1)"><polygon points="1103,-20 1101,6 1095,40 1080,60 1074,75 1080,132 1083,160 1078,250 1076,300 1074,440 1075,510 1077,620 1150,620 1150,510 1153,440 1153,300 1152,250 1152,160 1154,132 1165,75 1162,60 1151,40 1150,6 1150,-20" fill="#6e6e6e"/><polygon points="1449,-20 1447,6 1445,30 1437,50 1435,70 1442,145 1442,200 1438,300 1438,440 1432,520 1432,620 1499,620 1505,520 1513,440 1513,300 1516,200 1516,145 1500,70 1487,50 1475,30 1471,6 1469,-20" fill="#6e6e6e"/><polygon points="990,75 1080,72 1150,65 1290,61 1440,65 1510,75 1600,77 1600,150 1510,148 1440,138 1290,135 1150,135 1080,132 990,131" fill="#6e6e6e"/><polygon points="990,435 1080,435 1150,438 1300,438 1440,440 1510,452 1600,452 1600,528 1510,525 1440,521 1300,511 1150,512 1080,508 990,507" fill="#6e6e6e"/><polygon points="1108,-20 1106,6 1100,40 1085,60 1079,75 1085,132 1088,160 1083,250 1081,300 1079,440 1080,510 1082,620 1145,620 1145,510 1148,440 1148,300 1147,250 1147,160 1149,132 1160,75 1157,60 1146,40 1145,6 1145,-20" fill="#939393"/><polygon points="1454,-20 1452,6 1450,30 1442,50 1440,70 1447,145 1447,200 1443,300 1443,440 1437,520 1437,620 1494,620 1500,520 1508,440 1508,300 1511,200 1511,145 1495,70 1482,50 1470,30 1466,6 1464,-20" fill="#939393"/><polygon points="990,80 1080,77 1150,70 1290,66 1440,70 1510,80 1600,82 1600,145 1510,143 1440,133 1290,130 1150,130 1080,127 990,126" fill="#939393"/><polygon points="990,440 1080,440 1150,443 1300,443 1440,445 1510,457 1600,457 1600,523 1510,520 1440,516 1300,506 1150,507 1080,503 990,502" fill="#939393"/><polygon points="1116,-20 1114,6 1108,40 1093,60 1087,75 1093,132 1096,160 1091,250 1089,300 1087,440 1088,510 1090,620 1137,620 1137,510 1140,440 1140,300 1139,250 1139,160 1141,132 1152,75 1149,60 1138,40 1137,6 1137,-20" fill="#b1b1b1"/><polygon points="1459,-20 1459,6 1458,30 1450,50 1448,70 1455,145 1455,200 1451,300 1451,440 1445,520 1445,620 1486,620 1492,520 1500,440 1500,300 1503,200 1503,145 1487,70 1474,50 1462,30 1459,6 1459,-20" fill="#b1b1b1"/><polygon points="990,88 1080,85 1150,78 1290,74 1440,78 1510,88 1600,90 1600,137 1510,135 1440,125 1290,122 1150,122 1080,119 990,118" fill="#b1b1b1"/><polygon points="990,448 1080,448 1150,451 1300,451 1440,453 1510,465 1600,465 1600,515 1510,512 1440,508 1300,498 1150,499 1080,495 990,494" fill="#b1b1b1"/></g><g filter="url(#blB3)"><ellipse cx="1045" cy="472" rx="30" ry="17" fill="#dbdbdb"/><ellipse cx="1020" cy="470" rx="12" ry="14" fill="#e0e0e0"/><ellipse cx="1105" cy="360" rx="8" ry="12" fill="#d4d4d4"/><ellipse cx="1122" cy="395" rx="7" ry="10" fill="#d6d6d6"/><ellipse cx="1100" cy="420" rx="8" ry="8" fill="#d1d1d1"/><ellipse cx="1112" cy="450" rx="10" ry="10" fill="#d4d4d4"/><ellipse cx="1095" cy="480" rx="9" ry="9" fill="#d6d6d6"/><ellipse cx="1125" cy="485" rx="8" ry="10" fill="#d4d4d4"/><ellipse cx="1112" cy="590" rx="8" ry="10" fill="#d1d1d1"/><ellipse cx="1118" cy="560" rx="6" ry="8" fill="#cccccc"/><ellipse cx="1455" cy="465" rx="10" ry="8" fill="#d6d6d6"/><ellipse cx="1478" cy="478" rx="9" ry="9" fill="#d6d6d6"/><ellipse cx="1465" cy="412" rx="7" ry="9" fill="#d4d4d4"/><ellipse cx="1500" cy="488" rx="8" ry="8" fill="#d4d4d4"/><ellipse cx="1440" cy="470" rx="8" ry="6" fill="#cccccc"/><ellipse cx="1530" cy="482" rx="10" ry="6" fill="#d1d1d1"/><ellipse cx="1565" cy="478" rx="10" ry="8" fill="#d4d4d4"/><ellipse cx="1124" cy="37" rx="4" ry="5" fill="#d6d6d6"/><ellipse cx="1118" cy="58" rx="4" ry="5" fill="#d1d1d1"/><ellipse cx="1145" cy="84" rx="5" ry="5" fill="#d6d6d6"/><ellipse cx="1480" cy="105" rx="7" ry="6" fill="#cccccc"/><ellipse cx="1478" cy="128" rx="5" ry="5" fill="#d6d6d6"/><ellipse cx="1482" cy="200" rx="6" ry="8" fill="#cccccc"/><ellipse cx="1455" cy="240" rx="5" ry="6" fill="#c7c7c7"/><ellipse cx="1023" cy="105" rx="6" ry="5" fill="#c7c7c7"/><ellipse cx="1044" cy="112" rx="8" ry="4" fill="#c7c7c7"/><ellipse cx="1300" cy="490" rx="8" ry="6" fill="#cccccc"/><ellipse cx="1260" cy="470" rx="6" ry="6" fill="#c7c7c7"/><ellipse cx="1350" cy="480" rx="6" ry="6" fill="#c7c7c7"/><ellipse cx="1400" cy="470" rx="6" ry="6" fill="#c7c7c7"/><ellipse cx="1200" cy="480" rx="6" ry="6" fill="#c7c7c7"/><ellipse cx="1190" cy="478" rx="10" ry="6" fill="#cccccc"/><ellipse cx="1372" cy="470" rx="8" ry="5" fill="#cccccc"/><ellipse cx="1102" cy="345" rx="5" ry="7" fill="#d6d6d6"/><ellipse cx="1130" cy="420" rx="5" ry="6" fill="#d4d4d4"/><ellipse cx="1090" cy="440" rx="6" ry="6" fill="#d1d1d1"/><ellipse cx="1135" cy="505" rx="6" ry="6" fill="#d1d1d1"/><ellipse cx="1100" cy="520" rx="7" ry="6" fill="#d1d1d1"/><ellipse cx="1085" cy="500" rx="5" ry="5" fill="#d4d4d4"/><ellipse cx="1470" cy="250" rx="5" ry="5" fill="#cccccc"/><ellipse cx="1462" cy="440" rx="6" ry="6" fill="#d4d4d4"/><ellipse cx="1490" cy="455" rx="6" ry="5" fill="#d6d6d6"/><ellipse cx="1520" cy="470" rx="6" ry="5" fill="#d1d1d1"/><ellipse cx="1545" cy="488" rx="7" ry="5" fill="#d1d1d1"/><ellipse cx="1570" cy="470" rx="6" ry="5" fill="#d6d6d6"/></g></g></g>
<path d="M1008.3 6.9 H1577.2 V605.6" fill="none" stroke="#222" stroke-opacity="0.7" stroke-width="1.3"/>
<text x="1452" y="525" font-family='"Liberation Serif", "Times New Roman", serif' font-size="41" font-weight="bold" text-anchor="start" fill="#111" textLength="107" lengthAdjust="spacingAndGlyphs">4 µm</text>
<rect x="1492.4" y="552.3" width="26.2" height="5" fill="#111"/>
<line x1="1008.3" y1="6.4" x2="1008.3" y2="605.6" stroke="#333" stroke-width="1.8"/>
<line x1="997" y1="7.5" x2="1008.3" y2="7.5" stroke="#666" stroke-width="2.4"/>
<line x1="988.7" y1="45" x2="1008.3" y2="45" stroke="#666" stroke-width="2.4"/>
<line x1="997" y1="82.4" x2="1008.3" y2="82.4" stroke="#666" stroke-width="2.4"/>
<line x1="988.7" y1="119.9" x2="1008.3" y2="119.9" stroke="#666" stroke-width="2.4"/>
<line x1="997" y1="157.3" x2="1008.3" y2="157.3" stroke="#666" stroke-width="2.4"/>
<line x1="988.7" y1="194.8" x2="1008.3" y2="194.8" stroke="#666" stroke-width="2.4"/>
<line x1="997" y1="232.2" x2="1008.3" y2="232.2" stroke="#666" stroke-width="2.4"/>
<line x1="988.7" y1="269.7" x2="1008.3" y2="269.7" stroke="#666" stroke-width="2.4"/>
<line x1="997" y1="307.1" x2="1008.3" y2="307.1" stroke="#666" stroke-width="2.4"/>
<line x1="988.7" y1="344.6" x2="1008.3" y2="344.6" stroke="#666" stroke-width="2.4"/>
<line x1="997" y1="382.1" x2="1008.3" y2="382.1" stroke="#666" stroke-width="2.4"/>
<line x1="988.7" y1="419.5" x2="1008.3" y2="419.5" stroke="#666" stroke-width="2.4"/>
<line x1="997" y1="456.9" x2="1008.3" y2="456.9" stroke="#666" stroke-width="2.4"/>
<line x1="988.7" y1="494.4" x2="1008.3" y2="494.4" stroke="#666" stroke-width="2.4"/>
<line x1="997" y1="531.9" x2="1008.3" y2="531.9" stroke="#666" stroke-width="2.4"/>
<line x1="988.7" y1="569.3" x2="1008.3" y2="569.3" stroke="#666" stroke-width="2.4"/>
<line x1="997" y1="606.8" x2="1008.3" y2="606.8" stroke="#666" stroke-width="2.4"/>
<text x="982.4" y="56" font-family='"Liberation Serif", "Times New Roman", serif' font-size="32" font-weight="bold" text-anchor="end" fill="#111" textLength="46" lengthAdjust="spacingAndGlyphs">-30</text>
<text x="982.4" y="130.9" font-family='"Liberation Serif", "Times New Roman", serif' font-size="32" font-weight="bold" text-anchor="end" fill="#111" textLength="46" lengthAdjust="spacingAndGlyphs">-20</text>
<text x="982.4" y="205.8" font-family='"Liberation Serif", "Times New Roman", serif' font-size="32" font-weight="bold" text-anchor="end" fill="#111" textLength="46" lengthAdjust="spacingAndGlyphs">-10</text>
<text x="982.4" y="280.7" font-family='"Liberation Serif", "Times New Roman", serif' font-size="32" font-weight="bold" text-anchor="end" fill="#111" textLength="15.5" lengthAdjust="spacingAndGlyphs">0</text>
<text x="982.4" y="355.6" font-family='"Liberation Serif", "Times New Roman", serif' font-size="32" font-weight="bold" text-anchor="end" fill="#111" textLength="31" lengthAdjust="spacingAndGlyphs">10</text>
<text x="982.4" y="430.5" font-family='"Liberation Serif", "Times New Roman", serif' font-size="32" font-weight="bold" text-anchor="end" fill="#111" textLength="31" lengthAdjust="spacingAndGlyphs">20</text>
<text x="982.4" y="505.4" font-family='"Liberation Serif", "Times New Roman", serif' font-size="32" font-weight="bold" text-anchor="end" fill="#111" textLength="31" lengthAdjust="spacingAndGlyphs">30</text>
<text x="982.4" y="580.3" font-family='"Liberation Serif", "Times New Roman", serif' font-size="32" font-weight="bold" text-anchor="end" fill="#111" textLength="31" lengthAdjust="spacingAndGlyphs">40</text>
<line x1="1010.5" y1="605.6" x2="1010.5" y2="618.4" stroke="#666" stroke-width="2.4"/>
<line x1="1045.8" y1="605.6" x2="1045.8" y2="624.8" stroke="#666" stroke-width="2.4"/>
<line x1="1081" y1="605.6" x2="1081" y2="618.4" stroke="#666" stroke-width="2.4"/>
<line x1="1116.3" y1="605.6" x2="1116.3" y2="624.8" stroke="#666" stroke-width="2.4"/>
<line x1="1151.5" y1="605.6" x2="1151.5" y2="618.4" stroke="#666" stroke-width="2.4"/>
<line x1="1186.8" y1="605.6" x2="1186.8" y2="624.8" stroke="#666" stroke-width="2.4"/>
<line x1="1222" y1="605.6" x2="1222" y2="618.4" stroke="#666" stroke-width="2.4"/>
<line x1="1257.3" y1="605.6" x2="1257.3" y2="624.8" stroke="#666" stroke-width="2.4"/>
<line x1="1292.5" y1="605.6" x2="1292.5" y2="618.4" stroke="#666" stroke-width="2.4"/>
<line x1="1327.8" y1="605.6" x2="1327.8" y2="624.8" stroke="#666" stroke-width="2.4"/>
<line x1="1363" y1="605.6" x2="1363" y2="618.4" stroke="#666" stroke-width="2.4"/>
<line x1="1398.3" y1="605.6" x2="1398.3" y2="624.8" stroke="#666" stroke-width="2.4"/>
<line x1="1433.5" y1="605.6" x2="1433.5" y2="618.4" stroke="#666" stroke-width="2.4"/>
<line x1="1468.8" y1="605.6" x2="1468.8" y2="624.8" stroke="#666" stroke-width="2.4"/>
<line x1="1504" y1="605.6" x2="1504" y2="618.4" stroke="#666" stroke-width="2.4"/>
<line x1="1539.3" y1="605.6" x2="1539.3" y2="624.8" stroke="#666" stroke-width="2.4"/>
<line x1="1574.5" y1="605.6" x2="1574.5" y2="618.4" stroke="#666" stroke-width="2.4"/>
<text x="1011.8" y="653.5" font-family='"Liberation Serif", "Times New Roman", serif' font-size="37" font-weight="bold" text-anchor="start" fill="#111" textLength="54" lengthAdjust="spacingAndGlyphs">-30</text>
<text x="1082.3" y="653.5" font-family='"Liberation Serif", "Times New Roman", serif' font-size="37" font-weight="bold" text-anchor="start" fill="#111" textLength="54" lengthAdjust="spacingAndGlyphs">-20</text>
<text x="1152.8" y="653.5" font-family='"Liberation Serif", "Times New Roman", serif' font-size="37" font-weight="bold" text-anchor="start" fill="#111" textLength="54" lengthAdjust="spacingAndGlyphs">-10</text>
<text x="1257.8" y="653.5" font-family='"Liberation Serif", "Times New Roman", serif' font-size="37" font-weight="bold" text-anchor="middle" fill="#111" textLength="19" lengthAdjust="spacingAndGlyphs">0</text>
<text x="1329.8" y="653.5" font-family='"Liberation Serif", "Times New Roman", serif' font-size="37" font-weight="bold" text-anchor="middle" fill="#111" textLength="38" lengthAdjust="spacingAndGlyphs">10</text>
<text x="1400.3" y="653.5" font-family='"Liberation Serif", "Times New Roman", serif' font-size="37" font-weight="bold" text-anchor="middle" fill="#111" textLength="38" lengthAdjust="spacingAndGlyphs">20</text>
<text x="1470.8" y="653.5" font-family='"Liberation Serif", "Times New Roman", serif' font-size="37" font-weight="bold" text-anchor="middle" fill="#111" textLength="38" lengthAdjust="spacingAndGlyphs">30</text>
<text x="1541.3" y="653.5" font-family='"Liberation Serif", "Times New Roman", serif' font-size="37" font-weight="bold" text-anchor="middle" fill="#111" textLength="38" lengthAdjust="spacingAndGlyphs">40</text>
<text x="1226" y="699" font-family='"Liberation Sans", Arial, sans-serif' font-size="37" font-weight="bold" text-anchor="start" fill="#111" textLength="114" lengthAdjust="spacingAndGlyphs">X (µm)</text>
<text x="0" y="0" transform="translate(920.5,313.5) rotate(-90)" font-family='"Liberation Sans", Arial, sans-serif' font-size="37" font-weight="bold" text-anchor="middle" fill="#111" textLength="122" lengthAdjust="spacingAndGlyphs">Y (µm)</text>
<rect x="1597.5" y="5.3" width="26" height="591" fill="url(#cbg)" stroke="#8a8a8a" stroke-width="2.4"/>
<line x1="1624.7" y1="594" x2="1640" y2="594" stroke="#777" stroke-width="2.6"/>
<line x1="1624.7" y1="537.9" x2="1647.5" y2="537.9" stroke="#777" stroke-width="2.6"/>
<line x1="1624.7" y1="481.8" x2="1640" y2="481.8" stroke="#777" stroke-width="2.6"/>
<line x1="1624.7" y1="425.7" x2="1647.5" y2="425.7" stroke="#777" stroke-width="2.6"/>
<line x1="1624.7" y1="369.6" x2="1640" y2="369.6" stroke="#777" stroke-width="2.6"/>
<line x1="1624.7" y1="313.5" x2="1647.5" y2="313.5" stroke="#777" stroke-width="2.6"/>
<line x1="1624.7" y1="257.4" x2="1640" y2="257.4" stroke="#777" stroke-width="2.6"/>
<line x1="1624.7" y1="201.3" x2="1647.5" y2="201.3" stroke="#777" stroke-width="2.6"/>
<line x1="1624.7" y1="145.2" x2="1640" y2="145.2" stroke="#777" stroke-width="2.6"/>
<line x1="1624.7" y1="89.1" x2="1647.5" y2="89.1" stroke="#777" stroke-width="2.6"/>
<line x1="1624.7" y1="33" x2="1640" y2="33" stroke="#777" stroke-width="2.6"/>
<text x="1650" y="545.9" font-family='"Liberation Serif", "Times New Roman", serif' font-size="31" font-weight="bold" text-anchor="start" fill="#111" textLength="19" lengthAdjust="spacingAndGlyphs">0</text>
<text x="1650" y="433.7" font-family='"Liberation Serif", "Times New Roman", serif' font-size="31" font-weight="bold" text-anchor="start" fill="#111" textLength="38" lengthAdjust="spacingAndGlyphs">20</text>
<text x="1650" y="321.5" font-family='"Liberation Serif", "Times New Roman", serif' font-size="31" font-weight="bold" text-anchor="start" fill="#111" textLength="38" lengthAdjust="spacingAndGlyphs">40</text>
<text x="1650" y="209.3" font-family='"Liberation Serif", "Times New Roman", serif' font-size="31" font-weight="bold" text-anchor="start" fill="#111" textLength="38" lengthAdjust="spacingAndGlyphs">60</text>
<text x="1650" y="97.1" font-family='"Liberation Serif", "Times New Roman", serif' font-size="31" font-weight="bold" text-anchor="start" fill="#111" textLength="38" lengthAdjust="spacingAndGlyphs">80</text>
<text x="812" y="134.4" font-family='"Liberation Sans", Arial, sans-serif' font-size="85" font-weight="bold" text-anchor="start" fill="#000" >b)</text>
<defs><filter id="fC" filterUnits="userSpaceOnUse" x="980" y="700" width="640" height="660" color-interpolation-filters="sRGB"><feTurbulence type="fractalNoise" baseFrequency="0.07" numOctaves="2" seed="9" result="nz"/><feColorMatrix in="nz" type="matrix" values="1 0 0 0 0  1 0 0 0 0  1 0 0 0 0  0 0 0 0 1" result="nzg"/><feComposite in="SourceGraphic" in2="nzg" operator="arithmetic" k1="0" k2="1" k3="0.27" k4="-0.1350" result="sum"/><feComponentTransfer in="sum" result="cm"><feFuncR type="table" tableValues="0 0 0 0 0 0 0 0 0 0 0 0 0 0 0 0 0 0 0 0 0 0 0 0 0 0 0 0 0 0 0 0 0 0 0 0 0 0 0 0 0 0 0 0 0 0 0 0 0 0 0 0 0 0 0 0.02 0.07 0.12 0.171 0.221 0.272 0.324 0.389 0.453 0.514 0.561 0.608 0.656 0.705 0.755 0.804 0.854 0.904 0.954 1 1 1 1 1 1 1 1 1 1 1 1 1 1 1 1 1 1 1 1 1 1 1 1 1 1 1 1 1 1 1 1 1 1 1 1 1 1 1 1 1 1 1 1 1 1 1 1 1 1 1 1 1 1"/><feFuncG type="table" tableValues="0 0 0 0 0 0 0 0 0 0 0 0 0 0 0 0 0 0 0 0 0 0.012 0.083 0.153 0.224 0.294 0.344 0.385 0.426 0.467 0.515 0.597 0.679 0.76 0.822 0.885 0.948 1 1 1 1 1 1 1 1 1 1 1 1 1 1 1 1 1 1 0.977 0.917 0.857 0.797 0.737 0.677 0.62 0.577 0.534 0.485 0.414 0.343 0.295 0.262 0.229 0.196 0.149 0.098 0.047 0 0 0 0 0 0 0 0 0 0 0 0 0 0 0 0 0 0 0.064 0.132 0.2 0.263 0.309 0.356 0.402 0.444 0.471 0.498 0.525 0.551 0.591 0.644 0.697 0.75 0.816 0.883 0.95 1 1 1 1 1 1 1 1 1 1 1 1 1 1 1 1 1"/><feFuncB type="table" tableValues="0.063 0.09 0.118 0.145 0.173 0.2 0.227 0.26 0.327 0.394 0.461 0.528 0.589 0.644 0.699 0.754 0.809 0.85 0.889 0.928 0.968 0.986 0.902 0.818 0.734 0.65 0.598 0.556 0.515 0.474 0.43 0.368 0.306 0.244 0.18 0.117 0.053 0.011 0.077 0.143 0.209 0.27 0.324 0.377 0.43 0.484 0.539 0.596 0.652 0.709 0.764 0.815 0.866 0.918 0.969 0.977 0.917 0.857 0.797 0.737 0.677 0.62 0.577 0.534 0.485 0.414 0.343 0.295 0.262 0.229 0.196 0.149 0.098 0.047 0.003 0.04 0.076 0.113 0.163 0.219 0.276 0.332 0.391 0.457 0.524 0.591 0.658 0.725 0.793 0.86 0.928 0.996 0.969 0.936 0.903 0.862 0.801 0.739 0.677 0.617 0.564 0.51 0.457 0.403 0.342 0.271 0.2 0.13 0.093 0.059 0.025 0.013 0.064 0.114 0.165 0.216 0.275 0.355 0.435 0.516 0.596 0.69 0.793 0.895 0.95 0.967 0.983 1"/></feComponentTransfer><feGaussianBlur in="cm" stdDeviation="0.7"/></filter><filter id="blC1" x="-20%" y="-20%" width="140%" height="140%" color-interpolation-filters="sRGB"><feGaussianBlur stdDeviation="6"/></filter><filter id="blC2" x="-50%" y="-50%" width="200%" height="200%" color-interpolation-filters="sRGB"><feGaussianBlur stdDeviation="2"/></filter><filter id="blC3" x="-50%" y="-50%" width="200%" height="200%" color-interpolation-filters="sRGB"><feGaussianBlur stdDeviation="9"/></filter><clipPath id="clipC"><rect x="1008" y="732.5" width="568.8" height="583"/></clipPath><filter id="fE" filterUnits="userSpaceOnUse" x="940" y="1480" width="700" height="580" color-interpolation-filters="sRGB"><feTurbulence type="fractalNoise" baseFrequency="0.8" numOctaves="1" seed="3" result="nz"/><feColorMatrix in="nz" type="matrix" values="1 0 0 0 0  1 0 0 0 0  1 0 0 0 0  0 0 0 0 1" result="nzg"/><feComposite in="SourceGraphic" in2="nzg" operator="arithmetic" k1="0" k2="1" k3="0.02" k4="-0.0100" result="sum"/><feComponentTransfer in="sum" result="cm"><feFuncR type="table" tableValues="0 0 0 0 0 0 0 0 0 0 0 0 0 0 0 0 0 0 0 0 0 0 0 0 0 0 0 0 0 0 0 0 0 0 0 0 0 0 0 0 0 0 0 0 0 0 0 0 0 0 0 0 0 0 0 0.02 0.07 0.12 0.171 0.221 0.272 0.324 0.389 0.453 0.514 0.561 0.608 0.656 0.705 0.755 0.804 0.854 0.904 0.954 1 1 1 1 1 1 1 1 1 1 1 1 1 1 1 1 1 1 1 1 1 1 1 1 1 1 1 1 1 1 1 1 1 1 1 1 1 1 1 1 1 1 1 1 1 1 1 1 1 1 1 1 1 1"/><feFuncG type="table" tableValues="0 0 0 0 0 0 0 0 0 0 0 0 0 0 0 0 0 0 0 0 0 0.012 0.083 0.153 0.224 0.294 0.344 0.385 0.426 0.467 0.515 0.597 0.679 0.76 0.822 0.885 0.948 1 1 1 1 1 1 1 1 1 1 1 1 1 1 1 1 1 1 0.977 0.917 0.857 0.797 0.737 0.677 0.62 0.577 0.534 0.485 0.414 0.343 0.295 0.262 0.229 0.196 0.149 0.098 0.047 0 0 0 0 0 0 0 0 0 0 0 0 0 0 0 0 0 0 0.064 0.132 0.2 0.263 0.309 0.356 0.402 0.444 0.471 0.498 0.525 0.551 0.591 0.644 0.697 0.75 0.816 0.883 0.95 1 1 1 1 1 1 1 1 1 1 1 1 1 1 1 1 1"/><feFuncB type="table" tableValues="0.063 0.09 0.118 0.145 0.173 0.2 0.227 0.26 0.327 0.394 0.461 0.528 0.589 0.644 0.699 0.754 0.809 0.85 0.889 0.928 0.968 0.986 0.902 0.818 0.734 0.65 0.598 0.556 0.515 0.474 0.43 0.368 0.306 0.244 0.18 0.117 0.053 0.011 0.077 0.143 0.209 0.27 0.324 0.377 0.43 0.484 0.539 0.596 0.652 0.709 0.764 0.815 0.866 0.918 0.969 0.977 0.917 0.857 0.797 0.737 0.677 0.62 0.577 0.534 0.485 0.414 0.343 0.295 0.262 0.229 0.196 0.149 0.098 0.047 0.003 0.04 0.076 0.113 0.163 0.219 0.276 0.332 0.391 0.457 0.524 0.591 0.658 0.725 0.793 0.86 0.928 0.996 0.969 0.936 0.903 0.862 0.801 0.739 0.677 0.617 0.564 0.51 0.457 0.403 0.342 0.271 0.2 0.13 0.093 0.059 0.025 0.013 0.064 0.114 0.165 0.216 0.275 0.355 0.435 0.516 0.596 0.69 0.793 0.895 0.95 0.967 0.983 1"/></feComponentTransfer><feGaussianBlur in="cm" stdDeviation="1.3"/></filter><filter id="blE1" x="-20%" y="-50%" width="140%" height="200%" color-interpolation-filters="sRGB"><feGaussianBlur stdDeviation="1.6"/></filter><filter id="blE2" x="-50%" y="-50%" width="200%" height="200%" color-interpolation-filters="sRGB"><feGaussianBlur stdDeviation="11"/></filter><filter id="blE3" x="-50%" y="-50%" width="200%" height="200%" color-interpolation-filters="sRGB"><feGaussianBlur stdDeviation="6"/></filter><clipPath id="clipE"><rect x="970.5" y="1510.2" width="643" height="514.3"/></clipPath></defs>
<g clip-path="url(#clipC)"><g filter="url(#fC)"><rect x="980" y="700" width="640" height="660" fill="#282828"/><g filter="url(#blC1)"><rect x="1070" y="776" width="88" height="580" fill="#3d3d3d"/><rect x="1434" y="700" width="82" height="660" fill="#3d3d3d"/><rect x="1035" y="778" width="600" height="84" fill="#3e3e3e"/><rect x="1150" y="786" width="300" height="26" fill="#434343"/><rect x="1320" y="834" width="260" height="26" fill="#424242"/><rect x="1074" y="860" width="34" height="140" fill="#454545"/><rect x="1128" y="990" width="30" height="150" fill="#434343"/><rect x="1438" y="870" width="30" height="270" fill="#434343"/><rect x="1488" y="760" width="28" height="600" fill="#404040"/><rect x="980" y="1146" width="640" height="28" fill="#444444"/><rect x="980" y="1205" width="640" height="30" fill="#444444"/><rect x="1110" y="1172" width="400" height="33" fill="#303030"/></g><g filter="url(#blC3)" fill="#464646"><ellipse cx="1092" cy="915" rx="16" ry="45"/><ellipse cx="1540" cy="760" rx="30" ry="25"/><ellipse cx="1560" cy="820" rx="20" ry="30"/><ellipse cx="1030" cy="1285" rx="25" ry="25"/><ellipse cx="1520" cy="1285" rx="30" ry="22"/><ellipse cx="1455" cy="990" rx="14" ry="50"/><ellipse cx="1230" cy="798" rx="40" ry="14"/><ellipse cx="1300" cy="800" rx="30" ry="12"/><ellipse cx="1400" cy="1160" rx="30" ry="12"/><ellipse cx="1220" cy="1220" rx="40" ry="12"/></g><g filter="url(#blC3)" fill="#212121"><ellipse cx="1030" cy="900" rx="20" ry="60"/><ellipse cx="1560" cy="1000" rx="15" ry="70"/><ellipse cx="1300" cy="920" rx="60" ry="30"/><ellipse cx="1200" cy="1080" rx="30" ry="30"/><ellipse cx="1400" cy="1080" rx="30" ry="30"/><ellipse cx="1300" cy="1290" rx="60" ry="20"/><ellipse cx="1040" cy="760" rx="25" ry="20"/><ellipse cx="1210" cy="880" rx="40" ry="15"/></g><rect x="1238" y="954" width="110" height="122" rx="26" fill="#404040" filter="url(#blC3)"/><g filter="url(#blC2)"><rect x="1250" y="966" width="88" height="96" rx="10" fill="#666666"/><rect x="1257" y="974" width="74" height="81" rx="7" fill="#999999"/><rect x="1264" y="980" width="61" height="69" rx="6" fill="#b8b8b8"/><rect x="1271" y="986" width="48" height="58" rx="5" fill="#dedede"/><ellipse cx="1292" cy="1018" rx="16" ry="18" fill="#f2f2f2"/></g></g></g>
<path d="M1008 733.0 H1576.3 V1315.5" fill="none" stroke="#222" stroke-opacity="0.7" stroke-width="1.3"/>
<rect x="1246" y="1131" width="10" height="10" fill="#7d95c8"/>
<text x="1453" y="1240" font-family='"Liberation Serif", "Times New Roman", serif' font-size="41" font-weight="bold" text-anchor="start" fill="#111" textLength="105" lengthAdjust="spacingAndGlyphs">4 µm</text>
<rect x="1492.5" y="1264.7" width="27.5" height="5" fill="#111"/>
<rect x="1241.6" y="1126.9" width="93.6" height="122.7" fill="none" stroke="#000" stroke-width="7.5"/>
<line x1="1008" y1="732.5" x2="1008" y2="1315.5" stroke="#333" stroke-width="1.8"/>
<line x1="988.5" y1="767.2" x2="1008" y2="767.2" stroke="#666" stroke-width="2.4"/>
<line x1="997" y1="803.7" x2="1008" y2="803.7" stroke="#666" stroke-width="2.4"/>
<line x1="988.5" y1="840.2" x2="1008" y2="840.2" stroke="#666" stroke-width="2.4"/>
<line x1="997" y1="876.7" x2="1008" y2="876.7" stroke="#666" stroke-width="2.4"/>
<line x1="988.5" y1="913.2" x2="1008" y2="913.2" stroke="#666" stroke-width="2.4"/>
<line x1="997" y1="949.7" x2="1008" y2="949.7" stroke="#666" stroke-width="2.4"/>
<line x1="988.5" y1="986.2" x2="1008" y2="986.2" stroke="#666" stroke-width="2.4"/>
<line x1="997" y1="1022.7" x2="1008" y2="1022.7" stroke="#666" stroke-width="2.4"/>
<line x1="988.5" y1="1059.2" x2="1008" y2="1059.2" stroke="#666" stroke-width="2.4"/>
<line x1="997" y1="1095.7" x2="1008" y2="1095.7" stroke="#666" stroke-width="2.4"/>
<line x1="988.5" y1="1132.2" x2="1008" y2="1132.2" stroke="#666" stroke-width="2.4"/>
<line x1="997" y1="1168.7" x2="1008" y2="1168.7" stroke="#666" stroke-width="2.4"/>
<line x1="988.5" y1="1205.2" x2="1008" y2="1205.2" stroke="#666" stroke-width="2.4"/>
<line x1="997" y1="1241.7" x2="1008" y2="1241.7" stroke="#666" stroke-width="2.4"/>
<line x1="988.5" y1="1278.2" x2="1008" y2="1278.2" stroke="#666" stroke-width="2.4"/>
<line x1="997" y1="1314.7" x2="1008" y2="1314.7" stroke="#666" stroke-width="2.4"/>
<text x="981.5" y="775.2" font-family='"Liberation Serif", "Times New Roman", serif' font-size="31" font-weight="bold" text-anchor="end" fill="#111" textLength="46" lengthAdjust="spacingAndGlyphs">-30</text>
<text x="981.5" y="848.2" font-family='"Liberation Serif", "Times New Roman", serif' font-size="31" font-weight="bold" text-anchor="end" fill="#111" textLength="46" lengthAdjust="spacingAndGlyphs">-20</text>
<text x="981.5" y="921.2" font-family='"Liberation Serif", "Times New Roman", serif' font-size="31" font-weight="bold" text-anchor="end" fill="#111" textLength="46" lengthAdjust="spacingAndGlyphs">-10</text>
<text x="981.5" y="994.2" font-family='"Liberation Serif", "Times New Roman", serif' font-size="31" font-weight="bold" text-anchor="end" fill="#111" textLength="15.5" lengthAdjust="spacingAndGlyphs">0</text>
<text x="981.5" y="1067.2" font-family='"Liberation Serif", "Times New Roman", serif' font-size="31" font-weight="bold" text-anchor="end" fill="#111" textLength="31" lengthAdjust="spacingAndGlyphs">10</text>
<text x="981.5" y="1140.2" font-family='"Liberation Serif", "Times New Roman", serif' font-size="31" font-weight="bold" text-anchor="end" fill="#111" textLength="31" lengthAdjust="spacingAndGlyphs">20</text>
<text x="981.5" y="1213.2" font-family='"Liberation Serif", "Times New Roman", serif' font-size="31" font-weight="bold" text-anchor="end" fill="#111" textLength="31" lengthAdjust="spacingAndGlyphs">30</text>
<text x="981.5" y="1286.2" font-family='"Liberation Serif", "Times New Roman", serif' font-size="31" font-weight="bold" text-anchor="end" fill="#111" textLength="31" lengthAdjust="spacingAndGlyphs">40</text>
<line x1="1008.6" y1="1315.5" x2="1008.6" y2="1330" stroke="#666" stroke-width="2.4"/>
<line x1="1043.5" y1="1315.5" x2="1043.5" y2="1337.3" stroke="#666" stroke-width="2.4"/>
<line x1="1078.3" y1="1315.5" x2="1078.3" y2="1330" stroke="#666" stroke-width="2.4"/>
<line x1="1113.2" y1="1315.5" x2="1113.2" y2="1337.3" stroke="#666" stroke-width="2.4"/>
<line x1="1148" y1="1315.5" x2="1148" y2="1330" stroke="#666" stroke-width="2.4"/>
<line x1="1182.9" y1="1315.5" x2="1182.9" y2="1337.3" stroke="#666" stroke-width="2.4"/>
<line x1="1217.8" y1="1315.5" x2="1217.8" y2="1330" stroke="#666" stroke-width="2.4"/>
<line x1="1252.6" y1="1315.5" x2="1252.6" y2="1337.3" stroke="#666" stroke-width="2.4"/>
<line x1="1287.4" y1="1315.5" x2="1287.4" y2="1330" stroke="#666" stroke-width="2.4"/>
<line x1="1322.3" y1="1315.5" x2="1322.3" y2="1337.3" stroke="#666" stroke-width="2.4"/>
<line x1="1357.1" y1="1315.5" x2="1357.1" y2="1330" stroke="#666" stroke-width="2.4"/>
<line x1="1392" y1="1315.5" x2="1392" y2="1337.3" stroke="#666" stroke-width="2.4"/>
<line x1="1426.8" y1="1315.5" x2="1426.8" y2="1330" stroke="#666" stroke-width="2.4"/>
<line x1="1461.7" y1="1315.5" x2="1461.7" y2="1337.3" stroke="#666" stroke-width="2.4"/>
<line x1="1496.5" y1="1315.5" x2="1496.5" y2="1330" stroke="#666" stroke-width="2.4"/>
<line x1="1531.4" y1="1315.5" x2="1531.4" y2="1337.3" stroke="#666" stroke-width="2.4"/>
<line x1="1566.2" y1="1315.5" x2="1566.2" y2="1330" stroke="#666" stroke-width="2.4"/>
<text x="1009.5" y="1373" font-family='"Liberation Serif", "Times New Roman", serif' font-size="36" font-weight="bold" text-anchor="start" fill="#111" textLength="55" lengthAdjust="spacingAndGlyphs">-30</text>
<text x="1079.2" y="1373" font-family='"Liberation Serif", "Times New Roman", serif' font-size="36" font-weight="bold" text-anchor="start" fill="#111" textLength="55" lengthAdjust="spacingAndGlyphs">-20</text>
<text x="1148.9" y="1373" font-family='"Liberation Serif", "Times New Roman", serif' font-size="36" font-weight="bold" text-anchor="start" fill="#111" textLength="55" lengthAdjust="spacingAndGlyphs">-10</text>
<text x="1253.1" y="1373" font-family='"Liberation Serif", "Times New Roman", serif' font-size="36" font-weight="bold" text-anchor="middle" fill="#111" textLength="19" lengthAdjust="spacingAndGlyphs">0</text>
<text x="1324.3" y="1373" font-family='"Liberation Serif", "Times New Roman", serif' font-size="36" font-weight="bold" text-anchor="middle" fill="#111" textLength="38" lengthAdjust="spacingAndGlyphs">10</text>
<text x="1394" y="1373" font-family='"Liberation Serif", "Times New Roman", serif' font-size="36" font-weight="bold" text-anchor="middle" fill="#111" textLength="38" lengthAdjust="spacingAndGlyphs">20</text>
<text x="1463.7" y="1373" font-family='"Liberation Serif", "Times New Roman", serif' font-size="36" font-weight="bold" text-anchor="middle" fill="#111" textLength="38" lengthAdjust="spacingAndGlyphs">30</text>
<text x="1533.4" y="1373" font-family='"Liberation Serif", "Times New Roman", serif' font-size="36" font-weight="bold" text-anchor="middle" fill="#111" textLength="38" lengthAdjust="spacingAndGlyphs">40</text>
<text x="1216" y="1427" font-family='"Liberation Sans", Arial, sans-serif' font-size="37" font-weight="bold" text-anchor="start" fill="#111" textLength="118" lengthAdjust="spacingAndGlyphs">X (µm)</text>
<text x="0" y="0" transform="translate(918.5,981.8) rotate(-90)" font-family='"Liberation Sans", Arial, sans-serif' font-size="37" font-weight="bold" text-anchor="middle" fill="#111" textLength="121" lengthAdjust="spacingAndGlyphs">Y (µm)</text>
<rect x="1603.5" y="733.5" width="28.5" height="582.5" fill="url(#cbg)" stroke="#8a8a8a" stroke-width="2.4"/>
<line x1="1632.5" y1="1314.4" x2="1647.5" y2="1314.4" stroke="#777" stroke-width="2.6"/>
<line x1="1632.5" y1="1245.7" x2="1640" y2="1245.7" stroke="#777" stroke-width="2.6"/>
<line x1="1632.5" y1="1176.9" x2="1647.5" y2="1176.9" stroke="#777" stroke-width="2.6"/>
<line x1="1632.5" y1="1108.2" x2="1640" y2="1108.2" stroke="#777" stroke-width="2.6"/>
<line x1="1632.5" y1="1039.4" x2="1647.5" y2="1039.4" stroke="#777" stroke-width="2.6"/>
<line x1="1632.5" y1="970.7" x2="1640" y2="970.7" stroke="#777" stroke-width="2.6"/>
<line x1="1632.5" y1="902" x2="1647.5" y2="902" stroke="#777" stroke-width="2.6"/>
<line x1="1632.5" y1="833.2" x2="1640" y2="833.2" stroke="#777" stroke-width="2.6"/>
<line x1="1632.5" y1="764.5" x2="1647.5" y2="764.5" stroke="#777" stroke-width="2.6"/>
<text x="1658" y="1314.4" font-family='"Liberation Serif", "Times New Roman", serif' font-size="29.5" font-weight="bold" text-anchor="start" fill="#111" textLength="17" lengthAdjust="spacingAndGlyphs">0</text>
<text x="1658" y="1185.9" font-family='"Liberation Serif", "Times New Roman", serif' font-size="29.5" font-weight="bold" text-anchor="start" fill="#111" textLength="51" lengthAdjust="spacingAndGlyphs">100</text>
<text x="1658" y="1048.4" font-family='"Liberation Serif", "Times New Roman", serif' font-size="29.5" font-weight="bold" text-anchor="start" fill="#111" textLength="51" lengthAdjust="spacingAndGlyphs">200</text>
<text x="1658" y="911" font-family='"Liberation Serif", "Times New Roman", serif' font-size="29.5" font-weight="bold" text-anchor="start" fill="#111" textLength="51" lengthAdjust="spacingAndGlyphs">300</text>
<text x="1658" y="773.5" font-family='"Liberation Serif", "Times New Roman", serif' font-size="29.5" font-weight="bold" text-anchor="start" fill="#111" textLength="51" lengthAdjust="spacingAndGlyphs">400</text>
<text x="812" y="827.5" font-family='"Liberation Sans", Arial, sans-serif' font-size="85" font-weight="bold" text-anchor="start" fill="#000" >c)</text>
<g clip-path="url(#clipE)"><g filter="url(#fE)"><rect x="940" y="1480" width="700" height="580" fill="#050505"/><g filter="url(#blE2)"><rect x="940" y="1694" width="700" height="146" fill="#202020"/><ellipse cx="1090" cy="1745" rx="110" ry="6" fill="#292929"/><ellipse cx="1260" cy="1742" rx="70" ry="6" fill="#292929"/><ellipse cx="1450" cy="1768" rx="150" ry="8" fill="#292929"/><ellipse cx="1300" cy="1700" rx="220" ry="7" fill="#262626"/><ellipse cx="1560" cy="1705" rx="60" ry="8" fill="#292929"/><ellipse cx="1000" cy="1830" rx="60" ry="8" fill="#262626"/><polyline points="960,1658 1060,1658 1130,1658 1150,1663 1180,1661 1225,1656 1300,1658 1345,1664 1400,1667 1440,1672 1480,1677 1630,1677" fill="none" stroke="#262626" stroke-width="64"/><polyline points="960,1880 1040,1883 1080,1889 1120,1880 1150,1877 1220,1870 1260,1880 1295,1894 1365,1889 1440,1897 1520,1892 1630,1890" fill="none" stroke="#262626" stroke-width="92"/><ellipse cx="1200" cy="1545" rx="75" ry="22" fill="#2b2b2b"/><ellipse cx="1225" cy="1538" rx="25" ry="10" fill="#333333"/><ellipse cx="1370" cy="1562" rx="40" ry="16" fill="#262626"/><ellipse cx="1505" cy="1537" rx="45" ry="16" fill="#2e2e2e"/><ellipse cx="1578" cy="1600" rx="40" ry="14" fill="#292929"/><ellipse cx="1050" cy="1528" rx="40" ry="10" fill="#1a1a1a"/><ellipse cx="1010" cy="2005" rx="50" ry="24" fill="#303030"/><ellipse cx="1165" cy="2007" rx="45" ry="22" fill="#292929"/><ellipse cx="1185" cy="1935" rx="75" ry="10" fill="#2b2b2b"/><ellipse cx="1350" cy="1982" rx="120" ry="8" fill="#141414"/></g><g filter="url(#blE3)"><ellipse cx="1150" cy="1717" rx="22" ry="10" fill="#050505"/><ellipse cx="1000" cy="1782" rx="45" ry="12" fill="#050505"/><ellipse cx="1210" cy="1808" rx="100" ry="11" fill="#080808"/><ellipse cx="1305" cy="1717" rx="45" ry="7" fill="#121212"/><ellipse cx="1365" cy="1770" rx="25" ry="7" fill="#0d0d0d"/><ellipse cx="1560" cy="1750" rx="45" ry="10" fill="#0d0d0d"/><ellipse cx="1512" cy="1830" rx="30" ry="7" fill="#0a0a0a"/><ellipse cx="1440" cy="1790" rx="30" ry="8" fill="#121212"/></g><g filter="url(#blE3)"><ellipse cx="1165" cy="1846" rx="65" ry="11" fill="#4c4c4c"/><ellipse cx="1545" cy="1860" rx="75" ry="13" fill="#4c4c4c"/><ellipse cx="1290" cy="1918" rx="16" ry="8" fill="#4a4a4a"/><ellipse cx="1440" cy="1918" rx="14" ry="7" fill="#4a4a4a"/><ellipse cx="1160" cy="1684" rx="25" ry="6" fill="#474747"/><ellipse cx="1225" cy="1638" rx="22" ry="6" fill="#474747"/><ellipse cx="1370" cy="1684" rx="25" ry="6" fill="#474747"/></g><g filter="url(#blE1)" fill="none" stroke-linejoin="round" stroke-linecap="round"><polyline points="960,1658 1060,1658 1130,1658 1150,1663 1180,1661 1225,1656 1300,1658 1345,1664 1400,1667 1440,1672 1480,1677 1630,1677" stroke="#4c4c4c" stroke-width="42"/><polyline points="960,1658 1060,1658 1130,1658 1150,1663 1180,1661 1225,1656 1300,1658 1345,1664 1400,1667 1440,1672 1480,1677 1630,1677" stroke="#6b6b6b" stroke-width="28"/><polyline points="960,1658 1060,1658 1130,1658 1150,1663 1180,1661 1225,1656 1300,1658 1332,1662" stroke="#969696" stroke-width="22"/><polyline points="1405,1668 1440,1672 1480,1677 1630,1677" stroke="#969696" stroke-width="24"/><polyline points="1420,1672 1440,1674 1480,1678 1630,1678" stroke="#999999" stroke-width="28"/><polyline points="960,1658 1060,1658 1125,1658" stroke="#b8b8b8" stroke-width="15"/><polyline points="960,1658 1050,1658 1108,1658" stroke="#e0e0e0" stroke-width="11"/><polyline points="1050,1658 1098,1658" stroke="#fcfcfc" stroke-width="7"/><polyline points="1475,1677 1500,1678 1630,1678" stroke="#b8b8b8" stroke-width="16"/><polyline points="1505,1678 1630,1678" stroke="#e0e0e0" stroke-width="12"/><polyline points="1540,1678 1630,1678" stroke="#f7f7f7" stroke-width="5"/><polyline points="1285,1658 1305,1658" stroke="#adadad" stroke-width="9"/><polyline points="960,1880 1040,1883 1080,1889 1120,1880 1150,1877 1220,1870 1260,1880 1295,1894 1365,1889 1440,1897 1520,1892 1630,1890" stroke="#4c4c4c" stroke-width="58"/><polyline points="1400,1902 1445,1908 1490,1902" stroke="#4c4c4c" stroke-width="50"/><polyline points="960,1880 1040,1883 1080,1889 1120,1880 1150,1877 1220,1870 1260,1880 1295,1894 1365,1889 1440,1897 1520,1892 1630,1890" stroke="#6b6b6b" stroke-width="46"/><polyline points="1400,1902 1445,1908 1490,1902" stroke="#6b6b6b" stroke-width="38"/><polyline points="960,1880 1040,1883 1080,1889 1120,1880 1150,1877 1220,1870 1260,1880 1295,1894 1365,1889 1440,1897 1520,1892 1630,1890" stroke="#969696" stroke-width="40"/><polyline points="1400,1902 1445,1908 1490,1902" stroke="#969696" stroke-width="30"/><polyline points="960,1880 1040,1883 1080,1889 1120,1880 1150,1877 1220,1870 1260,1880 1295,1894 1365,1889 1440,1897 1520,1892 1630,1890" stroke="#b2b2b2" stroke-width="31"/><polyline points="960,1880 1040,1883 1068,1888" stroke="#e0e0e0" stroke-width="27"/><polyline points="1118,1879 1150,1877 1220,1873 1260,1882 1295,1893 1330,1892 1365,1890 1440,1894 1520,1892 1630,1891" stroke="#e0e0e0" stroke-width="20"/><polyline points="960,1878 1020,1879" stroke="#fcfcfc" stroke-width="14"/><polyline points="1135,1877 1220,1874 1255,1881 1290,1892 1325,1893" stroke="#fcfcfc" stroke-width="13"/><polyline points="1560,1891 1630,1891" stroke="#f7f7f7" stroke-width="8"/></g></g></g>
<path d="M970.5 1510.7 H1613.0 V2024.5" fill="none" stroke="#444" stroke-opacity="0.8" stroke-width="1.6"/>
<text x="1545" y="1972" font-family='"Liberation Serif", "Times New Roman", serif' font-size="22" font-weight="bold" text-anchor="start" fill="#000018" textLength="68" lengthAdjust="spacingAndGlyphs">0.2 µm</text>
<line x1="969.5" y1="1510.2" x2="969.5" y2="2024.5" stroke="#333" stroke-width="2"/>
<line x1="941.6" y1="1530.6" x2="970.5" y2="1530.6" stroke="#666" stroke-width="2.6"/>
<line x1="950" y1="1579.5" x2="970.5" y2="1579.5" stroke="#666" stroke-width="2.6"/>
<line x1="941.6" y1="1628.3" x2="970.5" y2="1628.3" stroke="#666" stroke-width="2.6"/>
<line x1="950" y1="1677.2" x2="970.5" y2="1677.2" stroke="#666" stroke-width="2.6"/>
<line x1="941.6" y1="1726.1" x2="970.5" y2="1726.1" stroke="#666" stroke-width="2.6"/>
<line x1="950" y1="1775" x2="970.5" y2="1775" stroke="#666" stroke-width="2.6"/>
<line x1="941.6" y1="1823.8" x2="970.5" y2="1823.8" stroke="#666" stroke-width="2.6"/>
<line x1="950" y1="1872.7" x2="970.5" y2="1872.7" stroke="#666" stroke-width="2.6"/>
<line x1="941.6" y1="1921.6" x2="970.5" y2="1921.6" stroke="#666" stroke-width="2.6"/>
<line x1="950" y1="1970.5" x2="970.5" y2="1970.5" stroke="#666" stroke-width="2.6"/>
<line x1="941.6" y1="2019.3" x2="970.5" y2="2019.3" stroke="#666" stroke-width="2.6"/>
<text x="938" y="1542.6" font-family='"Liberation Serif", "Times New Roman", serif' font-size="35" font-weight="bold" text-anchor="end" fill="#111" textLength="14" lengthAdjust="spacingAndGlyphs">0</text>
<text x="938" y="1640.3" font-family='"Liberation Serif", "Times New Roman", serif' font-size="35" font-weight="bold" text-anchor="end" fill="#111" textLength="14" lengthAdjust="spacingAndGlyphs">5</text>
<text x="938" y="1738.1" font-family='"Liberation Serif", "Times New Roman", serif' font-size="35" font-weight="bold" text-anchor="end" fill="#111" textLength="23.5" lengthAdjust="spacingAndGlyphs">10</text>
<text x="938" y="1835.8" font-family='"Liberation Serif", "Times New Roman", serif' font-size="35" font-weight="bold" text-anchor="end" fill="#111" textLength="23.5" lengthAdjust="spacingAndGlyphs">15</text>
<text x="938" y="1933.6" font-family='"Liberation Serif", "Times New Roman", serif' font-size="35" font-weight="bold" text-anchor="end" fill="#111" textLength="23.5" lengthAdjust="spacingAndGlyphs">20</text>
<text x="938" y="2031.3" font-family='"Liberation Serif", "Times New Roman", serif' font-size="35" font-weight="bold" text-anchor="end" fill="#111" textLength="23.5" lengthAdjust="spacingAndGlyphs">25</text>
<line x1="995.3" y1="2028.5" x2="995.3" y2="2051.5" stroke="#666" stroke-width="3"/>
<line x1="1057.9" y1="2028.5" x2="1057.9" y2="2061" stroke="#666" stroke-width="3"/>
<line x1="1121.3" y1="2028.5" x2="1121.3" y2="2051.5" stroke="#666" stroke-width="3"/>
<line x1="1187.3" y1="2028.5" x2="1187.3" y2="2061" stroke="#666" stroke-width="3"/>
<line x1="1254.9" y1="2028.5" x2="1254.9" y2="2051.5" stroke="#666" stroke-width="3"/>
<line x1="1317.8" y1="2028.5" x2="1317.8" y2="2061" stroke="#666" stroke-width="3"/>
<line x1="1384.3" y1="2028.5" x2="1384.3" y2="2051.5" stroke="#666" stroke-width="3"/>
<line x1="1450.7" y1="2028.5" x2="1450.7" y2="2061" stroke="#666" stroke-width="3"/>
<line x1="1513.7" y1="2028.5" x2="1513.7" y2="2051.5" stroke="#666" stroke-width="3"/>
<line x1="1577.4" y1="2028.5" x2="1577.4" y2="2061" stroke="#666" stroke-width="3"/>
<text x="1056.3" y="2098.5" font-family='"Liberation Serif", "Times New Roman", serif' font-size="39" font-weight="bold" text-anchor="middle" fill="#111" textLength="16.5" lengthAdjust="spacingAndGlyphs">0</text>
<text x="1186.1" y="2098.5" font-family='"Liberation Serif", "Times New Roman", serif' font-size="39" font-weight="bold" text-anchor="middle" fill="#111" textLength="16.5" lengthAdjust="spacingAndGlyphs">2</text>
<text x="1317" y="2098.5" font-family='"Liberation Serif", "Times New Roman", serif' font-size="39" font-weight="bold" text-anchor="middle" fill="#111" textLength="16.5" lengthAdjust="spacingAndGlyphs">4</text>
<text x="1448.6" y="2098.5" font-family='"Liberation Serif", "Times New Roman", serif' font-size="39" font-weight="bold" text-anchor="middle" fill="#111" textLength="16.5" lengthAdjust="spacingAndGlyphs">6</text>
<text x="1574.7" y="2098.5" font-family='"Liberation Serif", "Times New Roman", serif' font-size="39" font-weight="bold" text-anchor="middle" fill="#111" textLength="16.5" lengthAdjust="spacingAndGlyphs">8</text>
<text x="1232.5" y="2150.2" font-family='"Liberation Sans", Arial, sans-serif' font-size="43" font-weight="bold" text-anchor="start" fill="#111" textLength="123" lengthAdjust="spacingAndGlyphs">X (µm)</text>
<text x="0" y="0" transform="translate(900.5,1749) rotate(-90)" font-family='"Liberation Sans", Arial, sans-serif' font-size="42.5" font-weight="bold" text-anchor="middle" fill="#111" textLength="128" lengthAdjust="spacingAndGlyphs">Y (µm)</text>
<rect x="1631.5" y="1513.5" width="17.7" height="509.5" fill="url(#cbg)" stroke="#444" stroke-width="2"/>
<line x1="1649.5" y1="2024" x2="1662.5" y2="2024" stroke="#555" stroke-width="2.4"/>
<line x1="1649.5" y1="1993.3" x2="1656" y2="1993.3" stroke="#555" stroke-width="2.4"/>
<line x1="1649.5" y1="1962.7" x2="1662.5" y2="1962.7" stroke="#555" stroke-width="2.4"/>
<line x1="1649.5" y1="1932" x2="1656" y2="1932" stroke="#555" stroke-width="2.4"/>
<line x1="1649.5" y1="1901.4" x2="1662.5" y2="1901.4" stroke="#555" stroke-width="2.4"/>
<line x1="1649.5" y1="1870.8" x2="1656" y2="1870.8" stroke="#555" stroke-width="2.4"/>
<line x1="1649.5" y1="1840.1" x2="1662.5" y2="1840.1" stroke="#555" stroke-width="2.4"/>
<line x1="1649.5" y1="1809.5" x2="1656" y2="1809.5" stroke="#555" stroke-width="2.4"/>
<line x1="1649.5" y1="1778.8" x2="1662.5" y2="1778.8" stroke="#555" stroke-width="2.4"/>
<line x1="1649.5" y1="1748.2" x2="1656" y2="1748.2" stroke="#555" stroke-width="2.4"/>
<line x1="1649.5" y1="1717.5" x2="1662.5" y2="1717.5" stroke="#555" stroke-width="2.4"/>
<line x1="1649.5" y1="1686.8" x2="1656" y2="1686.8" stroke="#555" stroke-width="2.4"/>
<line x1="1649.5" y1="1656.2" x2="1662.5" y2="1656.2" stroke="#555" stroke-width="2.4"/>
<line x1="1649.5" y1="1625.5" x2="1656" y2="1625.5" stroke="#555" stroke-width="2.4"/>
<line x1="1649.5" y1="1594.9" x2="1662.5" y2="1594.9" stroke="#555" stroke-width="2.4"/>
<line x1="1649.5" y1="1564.2" x2="1656" y2="1564.2" stroke="#555" stroke-width="2.4"/>
<line x1="1649.5" y1="1533.6" x2="1662.5" y2="1533.6" stroke="#555" stroke-width="2.4"/>
<text x="1666.7" y="2028.9" font-family='"Liberation Serif", "Times New Roman", serif' font-size="24.5" font-weight="bold" text-anchor="start" fill="#111" textLength="52.5" lengthAdjust="spacingAndGlyphs">0.00</text>
<text x="1666.7" y="1966.6" font-family='"Liberation Serif", "Times New Roman", serif' font-size="24.5" font-weight="bold" text-anchor="start" fill="#111" textLength="52.5" lengthAdjust="spacingAndGlyphs">0.10</text>
<text x="1666.7" y="1904.3" font-family='"Liberation Serif", "Times New Roman", serif' font-size="24.5" font-weight="bold" text-anchor="start" fill="#111" textLength="52.5" lengthAdjust="spacingAndGlyphs">0.20</text>
<text x="1666.7" y="1842" font-family='"Liberation Serif", "Times New Roman", serif' font-size="24.5" font-weight="bold" text-anchor="start" fill="#111" textLength="52.5" lengthAdjust="spacingAndGlyphs">0.30</text>
<text x="1666.7" y="1779.6" font-family='"Liberation Serif", "Times New Roman", serif' font-size="24.5" font-weight="bold" text-anchor="start" fill="#111" textLength="52.5" lengthAdjust="spacingAndGlyphs">0.40</text>
<text x="1666.7" y="1717.3" font-family='"Liberation Serif", "Times New Roman", serif' font-size="24.5" font-weight="bold" text-anchor="start" fill="#111" textLength="52.5" lengthAdjust="spacingAndGlyphs">0.50</text>
<text x="1666.7" y="1655" font-family='"Liberation Serif", "Times New Roman", serif' font-size="24.5" font-weight="bold" text-anchor="start" fill="#111" textLength="52.5" lengthAdjust="spacingAndGlyphs">0.60</text>
<text x="1666.7" y="1592.6" font-family='"Liberation Serif", "Times New Roman", serif' font-size="24.5" font-weight="bold" text-anchor="start" fill="#111" textLength="52.5" lengthAdjust="spacingAndGlyphs">0.70</text>
<text x="1666.7" y="1530.3" font-family='"Liberation Serif", "Times New Roman", serif' font-size="24.5" font-weight="bold" text-anchor="start" fill="#111" textLength="52.5" lengthAdjust="spacingAndGlyphs">0.80</text>
<text x="812" y="1568.5" font-family='"Liberation Sans", Arial, sans-serif' font-size="85" font-weight="bold" text-anchor="start" fill="#000" >e)</text>
<line x1="1239" y1="1251.5" x2="963.2" y2="1467.1" stroke="#000" stroke-width="7.5"/>
<polygon points="946.7,1480 962.9,1452.1 977.7,1471" fill="#000"/>
<line x1="1337.5" y1="1251.5" x2="1596.9" y2="1486.3" stroke="#000" stroke-width="7.5"/>
<polygon points="1612.5,1500.4 1582.2,1489.2 1598.3,1471.4" fill="#000"/>
</svg></body></html>
